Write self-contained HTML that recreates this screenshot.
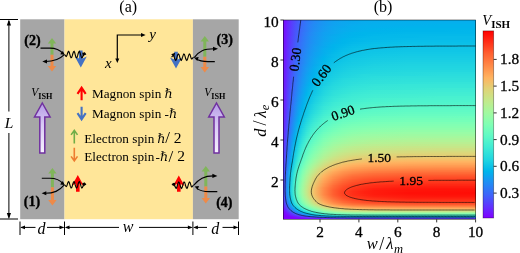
<!DOCTYPE html><html><head><meta charset="utf-8"><title>figure</title>
<style>html,body{margin:0;padding:0;background:#fff}svg{display:block}text{font-family:"Liberation Serif","DejaVu Serif",serif;fill:#000}</style></head><body>
<svg width="520" height="253" viewBox="0 0 520 253">
<defs><linearGradient id="r0"><stop offset="0" stop-color="#7a09ff"/><stop offset=".02" stop-color="#6a22fe"/><stop offset=".04" stop-color="#5a3bfd"/><stop offset=".06" stop-color="#4e4dfc"/><stop offset=".08" stop-color="#425ffa"/><stop offset=".1" stop-color="#396bf9"/><stop offset=".12" stop-color="#3176f8"/><stop offset=".14" stop-color="#2981f6"/><stop offset=".16" stop-color="#2489f5"/><stop offset=".21" stop-color="#1996f3"/><stop offset=".26" stop-color="#11a0f1"/><stop offset=".31" stop-color="#0ea5ef"/><stop offset=".36" stop-color="#09a9ee"/><stop offset=".42" stop-color="#08acee"/><stop offset=".47" stop-color="#08acee"/><stop offset=".65" stop-color="#06aeed"/><stop offset=".82" stop-color="#06aeed"/><stop offset="1" stop-color="#06aeed"/></linearGradient><linearGradient id="r1"><stop offset="0" stop-color="#7a09ff"/><stop offset=".02" stop-color="#6a22fe"/><stop offset=".04" stop-color="#5a3bfd"/><stop offset=".06" stop-color="#4e4dfc"/><stop offset=".08" stop-color="#425ffa"/><stop offset=".1" stop-color="#386df9"/><stop offset=".12" stop-color="#3079f7"/><stop offset=".14" stop-color="#2981f6"/><stop offset=".16" stop-color="#2489f5"/><stop offset=".21" stop-color="#1898f2"/><stop offset=".26" stop-color="#10a2f0"/><stop offset=".31" stop-color="#0ca7ef"/><stop offset=".36" stop-color="#09a9ee"/><stop offset=".42" stop-color="#08acee"/><stop offset=".47" stop-color="#06aeed"/><stop offset=".65" stop-color="#04b0ed"/><stop offset=".82" stop-color="#04b0ed"/><stop offset="1" stop-color="#04b0ed"/></linearGradient><linearGradient id="r2"><stop offset="0" stop-color="#7a09ff"/><stop offset=".02" stop-color="#6826fe"/><stop offset=".04" stop-color="#5a3bfd"/><stop offset=".06" stop-color="#4c50fc"/><stop offset=".08" stop-color="#425ffa"/><stop offset=".1" stop-color="#386df9"/><stop offset=".12" stop-color="#3079f7"/><stop offset=".14" stop-color="#2884f6"/><stop offset=".16" stop-color="#218cf4"/><stop offset=".21" stop-color="#1898f2"/><stop offset=".26" stop-color="#10a2f0"/><stop offset=".31" stop-color="#0ca7ef"/><stop offset=".36" stop-color="#08acee"/><stop offset=".42" stop-color="#06aeed"/><stop offset=".47" stop-color="#04b0ed"/><stop offset=".65" stop-color="#04b0ed"/><stop offset=".82" stop-color="#01b3ec"/><stop offset="1" stop-color="#01b3ec"/></linearGradient><linearGradient id="r3"><stop offset="0" stop-color="#7a09ff"/><stop offset=".02" stop-color="#6826fe"/><stop offset=".04" stop-color="#5a3bfd"/><stop offset=".06" stop-color="#4c50fc"/><stop offset=".08" stop-color="#4062fa"/><stop offset=".1" stop-color="#3670f8"/><stop offset=".12" stop-color="#2e7bf7"/><stop offset=".14" stop-color="#2884f6"/><stop offset=".16" stop-color="#218cf4"/><stop offset=".21" stop-color="#169bf2"/><stop offset=".26" stop-color="#0ea5ef"/><stop offset=".31" stop-color="#09a9ee"/><stop offset=".36" stop-color="#06aeed"/><stop offset=".42" stop-color="#04b0ed"/><stop offset=".47" stop-color="#04b0ed"/><stop offset=".65" stop-color="#01b3ec"/><stop offset=".82" stop-color="#01b3ec"/><stop offset="1" stop-color="#01b3ec"/></linearGradient><linearGradient id="r4"><stop offset="0" stop-color="#7a09ff"/><stop offset=".02" stop-color="#6826fe"/><stop offset=".04" stop-color="#583efd"/><stop offset=".06" stop-color="#4c50fc"/><stop offset=".08" stop-color="#4062fa"/><stop offset=".1" stop-color="#3670f8"/><stop offset=".12" stop-color="#2e7bf7"/><stop offset=".14" stop-color="#2686f5"/><stop offset=".16" stop-color="#208ef4"/><stop offset=".21" stop-color="#169bf2"/><stop offset=".26" stop-color="#0ea5ef"/><stop offset=".31" stop-color="#08acee"/><stop offset=".36" stop-color="#06aeed"/><stop offset=".42" stop-color="#04b0ed"/><stop offset=".47" stop-color="#01b3ec"/><stop offset=".65" stop-color="#00b5eb"/><stop offset=".82" stop-color="#00b5eb"/><stop offset="1" stop-color="#00b5eb"/></linearGradient><linearGradient id="r5"><stop offset="0" stop-color="#7a09ff"/><stop offset=".02" stop-color="#6826fe"/><stop offset=".04" stop-color="#583efd"/><stop offset=".06" stop-color="#4a53fb"/><stop offset=".08" stop-color="#4062fa"/><stop offset=".1" stop-color="#3670f8"/><stop offset=".12" stop-color="#2e7bf7"/><stop offset=".14" stop-color="#2686f5"/><stop offset=".16" stop-color="#208ef4"/><stop offset=".21" stop-color="#149df1"/><stop offset=".26" stop-color="#0ca7ef"/><stop offset=".31" stop-color="#08acee"/><stop offset=".36" stop-color="#04b0ed"/><stop offset=".42" stop-color="#01b3ec"/><stop offset=".47" stop-color="#01b3ec"/><stop offset=".65" stop-color="#00b5eb"/><stop offset=".82" stop-color="#00b5eb"/><stop offset="1" stop-color="#02b7eb"/></linearGradient><linearGradient id="r6"><stop offset="0" stop-color="#7a09ff"/><stop offset=".02" stop-color="#6826fe"/><stop offset=".04" stop-color="#583efd"/><stop offset=".06" stop-color="#4a53fb"/><stop offset=".08" stop-color="#3e65fa"/><stop offset=".1" stop-color="#3473f8"/><stop offset=".12" stop-color="#2c7ef7"/><stop offset=".14" stop-color="#2489f5"/><stop offset=".16" stop-color="#1e91f3"/><stop offset=".21" stop-color="#11a0f1"/><stop offset=".26" stop-color="#0ca7ef"/><stop offset=".31" stop-color="#06aeed"/><stop offset=".36" stop-color="#01b3ec"/><stop offset=".42" stop-color="#00b5eb"/><stop offset=".47" stop-color="#00b5eb"/><stop offset=".65" stop-color="#02b7eb"/><stop offset=".82" stop-color="#02b7eb"/><stop offset="1" stop-color="#02b7eb"/></linearGradient><linearGradient id="r7"><stop offset="0" stop-color="#7a09ff"/><stop offset=".02" stop-color="#6826fe"/><stop offset=".04" stop-color="#583efd"/><stop offset=".06" stop-color="#4a53fb"/><stop offset=".08" stop-color="#3e65fa"/><stop offset=".1" stop-color="#3473f8"/><stop offset=".12" stop-color="#2c7ef7"/><stop offset=".14" stop-color="#2489f5"/><stop offset=".16" stop-color="#1e91f3"/><stop offset=".21" stop-color="#11a0f1"/><stop offset=".26" stop-color="#09a9ee"/><stop offset=".31" stop-color="#04b0ed"/><stop offset=".36" stop-color="#01b3ec"/><stop offset=".42" stop-color="#00b5eb"/><stop offset=".47" stop-color="#02b7eb"/><stop offset=".65" stop-color="#04b9ea"/><stop offset=".82" stop-color="#04b9ea"/><stop offset="1" stop-color="#04b9ea"/></linearGradient><linearGradient id="r8"><stop offset="0" stop-color="#7a09ff"/><stop offset=".02" stop-color="#6629fe"/><stop offset=".04" stop-color="#5641fd"/><stop offset=".06" stop-color="#4856fb"/><stop offset=".08" stop-color="#3e65fa"/><stop offset=".1" stop-color="#3176f8"/><stop offset=".12" stop-color="#2981f6"/><stop offset=".14" stop-color="#218cf4"/><stop offset=".16" stop-color="#1c93f3"/><stop offset=".21" stop-color="#10a2f0"/><stop offset=".26" stop-color="#08acee"/><stop offset=".31" stop-color="#04b0ed"/><stop offset=".36" stop-color="#00b5eb"/><stop offset=".42" stop-color="#02b7eb"/><stop offset=".47" stop-color="#04b9ea"/><stop offset=".65" stop-color="#04b9ea"/><stop offset=".82" stop-color="#07bbea"/><stop offset="1" stop-color="#07bbea"/></linearGradient><linearGradient id="r9"><stop offset="0" stop-color="#7a09ff"/><stop offset=".02" stop-color="#6629fe"/><stop offset=".04" stop-color="#5641fd"/><stop offset=".06" stop-color="#4856fb"/><stop offset=".08" stop-color="#3c68f9"/><stop offset=".1" stop-color="#3176f8"/><stop offset=".12" stop-color="#2981f6"/><stop offset=".14" stop-color="#218cf4"/><stop offset=".16" stop-color="#1c93f3"/><stop offset=".21" stop-color="#10a2f0"/><stop offset=".26" stop-color="#08acee"/><stop offset=".31" stop-color="#01b3ec"/><stop offset=".36" stop-color="#02b7eb"/><stop offset=".42" stop-color="#04b9ea"/><stop offset=".47" stop-color="#04b9ea"/><stop offset=".65" stop-color="#07bbea"/><stop offset=".82" stop-color="#07bbea"/><stop offset="1" stop-color="#07bbea"/></linearGradient><linearGradient id="r10"><stop offset="0" stop-color="#7a09ff"/><stop offset=".02" stop-color="#6629fe"/><stop offset=".04" stop-color="#5641fd"/><stop offset=".06" stop-color="#4856fb"/><stop offset=".08" stop-color="#3c68f9"/><stop offset=".1" stop-color="#3176f8"/><stop offset=".12" stop-color="#2884f6"/><stop offset=".14" stop-color="#208ef4"/><stop offset=".16" stop-color="#1996f3"/><stop offset=".21" stop-color="#0ea5ef"/><stop offset=".26" stop-color="#06aeed"/><stop offset=".31" stop-color="#00b5eb"/><stop offset=".36" stop-color="#02b7eb"/><stop offset=".42" stop-color="#04b9ea"/><stop offset=".47" stop-color="#07bbea"/><stop offset=".65" stop-color="#08bee9"/><stop offset=".82" stop-color="#08bee9"/><stop offset="1" stop-color="#08bee9"/></linearGradient><linearGradient id="r11"><stop offset="0" stop-color="#7a09ff"/><stop offset=".02" stop-color="#6629fe"/><stop offset=".04" stop-color="#5641fd"/><stop offset=".06" stop-color="#4659fb"/><stop offset=".08" stop-color="#396bf9"/><stop offset=".1" stop-color="#3079f7"/><stop offset=".12" stop-color="#2884f6"/><stop offset=".14" stop-color="#208ef4"/><stop offset=".16" stop-color="#1996f3"/><stop offset=".21" stop-color="#0ca7ef"/><stop offset=".26" stop-color="#04b0ed"/><stop offset=".31" stop-color="#00b5eb"/><stop offset=".36" stop-color="#04b9ea"/><stop offset=".42" stop-color="#07bbea"/><stop offset=".47" stop-color="#08bee9"/><stop offset=".65" stop-color="#0ac0e8"/><stop offset=".82" stop-color="#0ac0e8"/><stop offset="1" stop-color="#0ac0e8"/></linearGradient><linearGradient id="r12"><stop offset="0" stop-color="#780dff"/><stop offset=".02" stop-color="#6629fe"/><stop offset=".04" stop-color="#5444fd"/><stop offset=".06" stop-color="#4659fb"/><stop offset=".08" stop-color="#396bf9"/><stop offset=".1" stop-color="#3079f7"/><stop offset=".12" stop-color="#2686f5"/><stop offset=".14" stop-color="#1e91f3"/><stop offset=".16" stop-color="#1898f2"/><stop offset=".21" stop-color="#0ca7ef"/><stop offset=".26" stop-color="#01b3ec"/><stop offset=".31" stop-color="#02b7eb"/><stop offset=".36" stop-color="#07bbea"/><stop offset=".42" stop-color="#08bee9"/><stop offset=".47" stop-color="#0ac0e8"/><stop offset=".65" stop-color="#0dc2e8"/><stop offset=".82" stop-color="#0dc2e8"/><stop offset="1" stop-color="#0dc2e8"/></linearGradient><linearGradient id="r13"><stop offset="0" stop-color="#780dff"/><stop offset=".02" stop-color="#6629fe"/><stop offset=".04" stop-color="#5444fd"/><stop offset=".06" stop-color="#4659fb"/><stop offset=".08" stop-color="#386df9"/><stop offset=".1" stop-color="#2e7bf7"/><stop offset=".12" stop-color="#2686f5"/><stop offset=".14" stop-color="#1e91f3"/><stop offset=".16" stop-color="#169bf2"/><stop offset=".21" stop-color="#09a9ee"/><stop offset=".26" stop-color="#01b3ec"/><stop offset=".31" stop-color="#04b9ea"/><stop offset=".36" stop-color="#08bee9"/><stop offset=".42" stop-color="#0ac0e8"/><stop offset=".47" stop-color="#0ac0e8"/><stop offset=".65" stop-color="#0dc2e8"/><stop offset=".82" stop-color="#0fc4e7"/><stop offset="1" stop-color="#0fc4e7"/></linearGradient><linearGradient id="r14"><stop offset="0" stop-color="#780dff"/><stop offset=".02" stop-color="#642cfe"/><stop offset=".04" stop-color="#5444fd"/><stop offset=".06" stop-color="#445cfb"/><stop offset=".08" stop-color="#386df9"/><stop offset=".1" stop-color="#2e7bf7"/><stop offset=".12" stop-color="#2489f5"/><stop offset=".14" stop-color="#1c93f3"/><stop offset=".16" stop-color="#169bf2"/><stop offset=".21" stop-color="#08acee"/><stop offset=".26" stop-color="#00b5eb"/><stop offset=".31" stop-color="#07bbea"/><stop offset=".36" stop-color="#0ac0e8"/><stop offset=".42" stop-color="#0dc2e8"/><stop offset=".47" stop-color="#0dc2e8"/><stop offset=".65" stop-color="#0fc4e7"/><stop offset=".82" stop-color="#0fc4e7"/><stop offset="1" stop-color="#10c6e6"/></linearGradient><linearGradient id="r15"><stop offset="0" stop-color="#780dff"/><stop offset=".02" stop-color="#642cfe"/><stop offset=".04" stop-color="#5247fc"/><stop offset=".06" stop-color="#445cfb"/><stop offset=".08" stop-color="#386df9"/><stop offset=".1" stop-color="#2c7ef7"/><stop offset=".12" stop-color="#218cf4"/><stop offset=".14" stop-color="#1996f3"/><stop offset=".16" stop-color="#149df1"/><stop offset=".21" stop-color="#06aeed"/><stop offset=".26" stop-color="#02b7eb"/><stop offset=".31" stop-color="#08bee9"/><stop offset=".36" stop-color="#0ac0e8"/><stop offset=".42" stop-color="#0fc4e7"/><stop offset=".47" stop-color="#0fc4e7"/><stop offset=".65" stop-color="#10c6e6"/><stop offset=".82" stop-color="#10c6e6"/><stop offset="1" stop-color="#10c6e6"/></linearGradient><linearGradient id="r16"><stop offset="0" stop-color="#780dff"/><stop offset=".02" stop-color="#642cfe"/><stop offset=".04" stop-color="#5247fc"/><stop offset=".06" stop-color="#445cfb"/><stop offset=".08" stop-color="#3670f8"/><stop offset=".1" stop-color="#2981f6"/><stop offset=".12" stop-color="#218cf4"/><stop offset=".14" stop-color="#1996f3"/><stop offset=".16" stop-color="#11a0f1"/><stop offset=".21" stop-color="#06aeed"/><stop offset=".26" stop-color="#04b9ea"/><stop offset=".31" stop-color="#0ac0e8"/><stop offset=".36" stop-color="#0dc2e8"/><stop offset=".42" stop-color="#0fc4e7"/><stop offset=".47" stop-color="#10c6e6"/><stop offset=".65" stop-color="#12c8e6"/><stop offset=".82" stop-color="#12c8e6"/><stop offset="1" stop-color="#12c8e6"/></linearGradient><linearGradient id="r17"><stop offset="0" stop-color="#780dff"/><stop offset=".02" stop-color="#642cfe"/><stop offset=".04" stop-color="#5247fc"/><stop offset=".06" stop-color="#425ffa"/><stop offset=".08" stop-color="#3670f8"/><stop offset=".1" stop-color="#2981f6"/><stop offset=".12" stop-color="#208ef4"/><stop offset=".14" stop-color="#1898f2"/><stop offset=".16" stop-color="#11a0f1"/><stop offset=".21" stop-color="#04b0ed"/><stop offset=".26" stop-color="#07bbea"/><stop offset=".31" stop-color="#0ac0e8"/><stop offset=".36" stop-color="#0fc4e7"/><stop offset=".42" stop-color="#10c6e6"/><stop offset=".47" stop-color="#12c8e6"/><stop offset=".65" stop-color="#14cae5"/><stop offset=".82" stop-color="#14cae5"/><stop offset="1" stop-color="#14cae5"/></linearGradient><linearGradient id="r18"><stop offset="0" stop-color="#780dff"/><stop offset=".02" stop-color="#642cfe"/><stop offset=".04" stop-color="#5247fc"/><stop offset=".06" stop-color="#425ffa"/><stop offset=".08" stop-color="#3473f8"/><stop offset=".1" stop-color="#2884f6"/><stop offset=".12" stop-color="#208ef4"/><stop offset=".14" stop-color="#169bf2"/><stop offset=".16" stop-color="#10a2f0"/><stop offset=".21" stop-color="#01b3ec"/><stop offset=".26" stop-color="#07bbea"/><stop offset=".31" stop-color="#0dc2e8"/><stop offset=".36" stop-color="#10c6e6"/><stop offset=".42" stop-color="#12c8e6"/><stop offset=".47" stop-color="#14cae5"/><stop offset=".65" stop-color="#17cbe4"/><stop offset=".82" stop-color="#17cbe4"/><stop offset="1" stop-color="#17cbe4"/></linearGradient><linearGradient id="r19"><stop offset="0" stop-color="#780dff"/><stop offset=".02" stop-color="#622ffe"/><stop offset=".04" stop-color="#504afc"/><stop offset=".06" stop-color="#4062fa"/><stop offset=".08" stop-color="#3473f8"/><stop offset=".1" stop-color="#2884f6"/><stop offset=".12" stop-color="#1e91f3"/><stop offset=".14" stop-color="#169bf2"/><stop offset=".16" stop-color="#0ea5ef"/><stop offset=".21" stop-color="#00b5eb"/><stop offset=".26" stop-color="#08bee9"/><stop offset=".31" stop-color="#0fc4e7"/><stop offset=".36" stop-color="#12c8e6"/><stop offset=".42" stop-color="#14cae5"/><stop offset=".47" stop-color="#17cbe4"/><stop offset=".65" stop-color="#18cde4"/><stop offset=".82" stop-color="#18cde4"/><stop offset="1" stop-color="#18cde4"/></linearGradient><linearGradient id="r20"><stop offset="0" stop-color="#780dff"/><stop offset=".02" stop-color="#622ffe"/><stop offset=".04" stop-color="#504afc"/><stop offset=".06" stop-color="#4062fa"/><stop offset=".08" stop-color="#3176f8"/><stop offset=".1" stop-color="#2686f5"/><stop offset=".12" stop-color="#1c93f3"/><stop offset=".14" stop-color="#149df1"/><stop offset=".16" stop-color="#0ca7ef"/><stop offset=".21" stop-color="#02b7eb"/><stop offset=".26" stop-color="#0ac0e8"/><stop offset=".31" stop-color="#10c6e6"/><stop offset=".36" stop-color="#14cae5"/><stop offset=".42" stop-color="#17cbe4"/><stop offset=".47" stop-color="#18cde4"/><stop offset=".65" stop-color="#1acfe3"/><stop offset=".82" stop-color="#1acfe3"/><stop offset="1" stop-color="#1acfe3"/></linearGradient><linearGradient id="r21"><stop offset="0" stop-color="#780dff"/><stop offset=".02" stop-color="#622ffe"/><stop offset=".04" stop-color="#504afc"/><stop offset=".06" stop-color="#3e65fa"/><stop offset=".08" stop-color="#3079f7"/><stop offset=".1" stop-color="#2686f5"/><stop offset=".12" stop-color="#1c93f3"/><stop offset=".14" stop-color="#11a0f1"/><stop offset=".16" stop-color="#0ca7ef"/><stop offset=".21" stop-color="#04b9ea"/><stop offset=".26" stop-color="#0dc2e8"/><stop offset=".31" stop-color="#12c8e6"/><stop offset=".36" stop-color="#17cbe4"/><stop offset=".42" stop-color="#18cde4"/><stop offset=".47" stop-color="#1acfe3"/><stop offset=".65" stop-color="#1dd1e2"/><stop offset=".82" stop-color="#1dd1e2"/><stop offset="1" stop-color="#1dd1e2"/></linearGradient><linearGradient id="r22"><stop offset="0" stop-color="#780dff"/><stop offset=".02" stop-color="#622ffe"/><stop offset=".04" stop-color="#4e4dfc"/><stop offset=".06" stop-color="#3e65fa"/><stop offset=".08" stop-color="#3079f7"/><stop offset=".1" stop-color="#2489f5"/><stop offset=".12" stop-color="#1996f3"/><stop offset=".14" stop-color="#11a0f1"/><stop offset=".16" stop-color="#09a9ee"/><stop offset=".21" stop-color="#04b9ea"/><stop offset=".26" stop-color="#0fc4e7"/><stop offset=".31" stop-color="#14cae5"/><stop offset=".36" stop-color="#18cde4"/><stop offset=".42" stop-color="#1acfe3"/><stop offset=".47" stop-color="#1dd1e2"/><stop offset=".65" stop-color="#1fd3e1"/><stop offset=".82" stop-color="#1fd3e1"/><stop offset="1" stop-color="#1fd3e1"/></linearGradient><linearGradient id="r23"><stop offset="0" stop-color="#780dff"/><stop offset=".02" stop-color="#6032fe"/><stop offset=".04" stop-color="#4e4dfc"/><stop offset=".06" stop-color="#3e65fa"/><stop offset=".08" stop-color="#2e7bf7"/><stop offset=".1" stop-color="#218cf4"/><stop offset=".12" stop-color="#1898f2"/><stop offset=".14" stop-color="#10a2f0"/><stop offset=".16" stop-color="#08acee"/><stop offset=".21" stop-color="#07bbea"/><stop offset=".26" stop-color="#10c6e6"/><stop offset=".31" stop-color="#17cbe4"/><stop offset=".36" stop-color="#1acfe3"/><stop offset=".42" stop-color="#1dd1e2"/><stop offset=".47" stop-color="#1fd3e1"/><stop offset=".65" stop-color="#20d5e1"/><stop offset=".82" stop-color="#20d5e1"/><stop offset="1" stop-color="#20d5e1"/></linearGradient><linearGradient id="r24"><stop offset="0" stop-color="#7610ff"/><stop offset=".02" stop-color="#6032fe"/><stop offset=".04" stop-color="#4c50fc"/><stop offset=".06" stop-color="#3c68f9"/><stop offset=".08" stop-color="#2e7bf7"/><stop offset=".1" stop-color="#218cf4"/><stop offset=".12" stop-color="#169bf2"/><stop offset=".14" stop-color="#0ea5ef"/><stop offset=".16" stop-color="#06aeed"/><stop offset=".21" stop-color="#08bee9"/><stop offset=".26" stop-color="#12c8e6"/><stop offset=".31" stop-color="#18cde4"/><stop offset=".36" stop-color="#1dd1e2"/><stop offset=".42" stop-color="#1fd3e1"/><stop offset=".47" stop-color="#20d5e1"/><stop offset=".65" stop-color="#22d6e0"/><stop offset=".82" stop-color="#22d6e0"/><stop offset="1" stop-color="#22d6e0"/></linearGradient><linearGradient id="r25"><stop offset="0" stop-color="#7610ff"/><stop offset=".02" stop-color="#6032fe"/><stop offset=".04" stop-color="#4c50fc"/><stop offset=".06" stop-color="#3c68f9"/><stop offset=".08" stop-color="#2c7ef7"/><stop offset=".1" stop-color="#208ef4"/><stop offset=".12" stop-color="#169bf2"/><stop offset=".14" stop-color="#0ca7ef"/><stop offset=".16" stop-color="#04b0ed"/><stop offset=".21" stop-color="#0ac0e8"/><stop offset=".26" stop-color="#14cae5"/><stop offset=".31" stop-color="#1acfe3"/><stop offset=".36" stop-color="#1fd3e1"/><stop offset=".42" stop-color="#20d5e1"/><stop offset=".47" stop-color="#22d6e0"/><stop offset=".65" stop-color="#24d8df"/><stop offset=".82" stop-color="#24d8df"/><stop offset="1" stop-color="#24d8df"/></linearGradient><linearGradient id="r26"><stop offset="0" stop-color="#7610ff"/><stop offset=".02" stop-color="#6032fe"/><stop offset=".04" stop-color="#4c50fc"/><stop offset=".06" stop-color="#396bf9"/><stop offset=".08" stop-color="#2c7ef7"/><stop offset=".1" stop-color="#1e91f3"/><stop offset=".12" stop-color="#149df1"/><stop offset=".14" stop-color="#09a9ee"/><stop offset=".16" stop-color="#04b0ed"/><stop offset=".21" stop-color="#0dc2e8"/><stop offset=".26" stop-color="#17cbe4"/><stop offset=".31" stop-color="#1dd1e2"/><stop offset=".36" stop-color="#20d5e1"/><stop offset=".42" stop-color="#22d6e0"/><stop offset=".47" stop-color="#24d8df"/><stop offset=".65" stop-color="#27dade"/><stop offset=".82" stop-color="#28dbde"/><stop offset="1" stop-color="#28dbde"/></linearGradient><linearGradient id="r27"><stop offset="0" stop-color="#7610ff"/><stop offset=".02" stop-color="#5e35fe"/><stop offset=".04" stop-color="#4a53fb"/><stop offset=".06" stop-color="#396bf9"/><stop offset=".08" stop-color="#2981f6"/><stop offset=".1" stop-color="#1e91f3"/><stop offset=".12" stop-color="#11a0f1"/><stop offset=".14" stop-color="#09a9ee"/><stop offset=".16" stop-color="#01b3ec"/><stop offset=".21" stop-color="#0fc4e7"/><stop offset=".26" stop-color="#18cde4"/><stop offset=".31" stop-color="#1fd3e1"/><stop offset=".36" stop-color="#22d6e0"/><stop offset=".42" stop-color="#27dade"/><stop offset=".47" stop-color="#27dade"/><stop offset=".65" stop-color="#28dbde"/><stop offset=".82" stop-color="#2adddd"/><stop offset="1" stop-color="#2adddd"/></linearGradient><linearGradient id="r28"><stop offset="0" stop-color="#7610ff"/><stop offset=".02" stop-color="#5e35fe"/><stop offset=".04" stop-color="#4a53fb"/><stop offset=".06" stop-color="#386df9"/><stop offset=".08" stop-color="#2884f6"/><stop offset=".1" stop-color="#1c93f3"/><stop offset=".12" stop-color="#10a2f0"/><stop offset=".14" stop-color="#08acee"/><stop offset=".16" stop-color="#00b5eb"/><stop offset=".21" stop-color="#10c6e6"/><stop offset=".26" stop-color="#1acfe3"/><stop offset=".31" stop-color="#20d5e1"/><stop offset=".36" stop-color="#24d8df"/><stop offset=".42" stop-color="#28dbde"/><stop offset=".47" stop-color="#2adddd"/><stop offset=".65" stop-color="#2ddedc"/><stop offset=".82" stop-color="#2ddedc"/><stop offset="1" stop-color="#2ddedc"/></linearGradient><linearGradient id="r29"><stop offset="0" stop-color="#7610ff"/><stop offset=".02" stop-color="#5e35fe"/><stop offset=".04" stop-color="#4856fb"/><stop offset=".06" stop-color="#3670f8"/><stop offset=".08" stop-color="#2884f6"/><stop offset=".1" stop-color="#1996f3"/><stop offset=".12" stop-color="#10a2f0"/><stop offset=".14" stop-color="#06aeed"/><stop offset=".16" stop-color="#02b7eb"/><stop offset=".21" stop-color="#12c8e6"/><stop offset=".26" stop-color="#1dd1e2"/><stop offset=".31" stop-color="#24d8df"/><stop offset=".36" stop-color="#28dbde"/><stop offset=".42" stop-color="#2adddd"/><stop offset=".47" stop-color="#2ddedc"/><stop offset=".65" stop-color="#2fe0db"/><stop offset=".82" stop-color="#2fe0db"/><stop offset="1" stop-color="#2fe0db"/></linearGradient><linearGradient id="r30"><stop offset="0" stop-color="#7610ff"/><stop offset=".02" stop-color="#5e35fe"/><stop offset=".04" stop-color="#4856fb"/><stop offset=".06" stop-color="#3670f8"/><stop offset=".08" stop-color="#2686f5"/><stop offset=".1" stop-color="#1898f2"/><stop offset=".12" stop-color="#0ea5ef"/><stop offset=".14" stop-color="#04b0ed"/><stop offset=".16" stop-color="#04b9ea"/><stop offset=".21" stop-color="#14cae5"/><stop offset=".26" stop-color="#1fd3e1"/><stop offset=".31" stop-color="#27dade"/><stop offset=".36" stop-color="#2adddd"/><stop offset=".42" stop-color="#2ddedc"/><stop offset=".47" stop-color="#2fe0db"/><stop offset=".65" stop-color="#30e1da"/><stop offset=".82" stop-color="#30e1da"/><stop offset="1" stop-color="#30e1da"/></linearGradient><linearGradient id="r31"><stop offset="0" stop-color="#7610ff"/><stop offset=".02" stop-color="#5c38fd"/><stop offset=".04" stop-color="#4856fb"/><stop offset=".06" stop-color="#3473f8"/><stop offset=".08" stop-color="#2489f5"/><stop offset=".1" stop-color="#1898f2"/><stop offset=".12" stop-color="#0ca7ef"/><stop offset=".14" stop-color="#01b3ec"/><stop offset=".16" stop-color="#07bbea"/><stop offset=".21" stop-color="#17cbe4"/><stop offset=".26" stop-color="#22d6e0"/><stop offset=".31" stop-color="#28dbde"/><stop offset=".36" stop-color="#2ddedc"/><stop offset=".42" stop-color="#2fe0db"/><stop offset=".47" stop-color="#30e1da"/><stop offset=".65" stop-color="#32e3da"/><stop offset=".82" stop-color="#34e4d9"/><stop offset="1" stop-color="#34e4d9"/></linearGradient><linearGradient id="r32"><stop offset="0" stop-color="#7610ff"/><stop offset=".02" stop-color="#5c38fd"/><stop offset=".04" stop-color="#4659fb"/><stop offset=".06" stop-color="#3473f8"/><stop offset=".08" stop-color="#2489f5"/><stop offset=".1" stop-color="#169bf2"/><stop offset=".12" stop-color="#09a9ee"/><stop offset=".14" stop-color="#00b5eb"/><stop offset=".16" stop-color="#08bee9"/><stop offset=".21" stop-color="#18cde4"/><stop offset=".26" stop-color="#24d8df"/><stop offset=".31" stop-color="#2adddd"/><stop offset=".36" stop-color="#2fe0db"/><stop offset=".42" stop-color="#32e3da"/><stop offset=".47" stop-color="#34e4d9"/><stop offset=".65" stop-color="#37e6d8"/><stop offset=".82" stop-color="#37e6d8"/><stop offset="1" stop-color="#37e6d8"/></linearGradient><linearGradient id="r33"><stop offset="0" stop-color="#7413ff"/><stop offset=".02" stop-color="#5c38fd"/><stop offset=".04" stop-color="#4659fb"/><stop offset=".06" stop-color="#3176f8"/><stop offset=".08" stop-color="#218cf4"/><stop offset=".1" stop-color="#149df1"/><stop offset=".12" stop-color="#08acee"/><stop offset=".14" stop-color="#02b7eb"/><stop offset=".16" stop-color="#0ac0e8"/><stop offset=".21" stop-color="#1dd1e2"/><stop offset=".26" stop-color="#27dade"/><stop offset=".31" stop-color="#2ddedc"/><stop offset=".36" stop-color="#32e3da"/><stop offset=".42" stop-color="#34e4d9"/><stop offset=".47" stop-color="#37e6d8"/><stop offset=".65" stop-color="#38e7d7"/><stop offset=".82" stop-color="#38e7d7"/><stop offset="1" stop-color="#38e7d7"/></linearGradient><linearGradient id="r34"><stop offset="0" stop-color="#7413ff"/><stop offset=".02" stop-color="#5a3bfd"/><stop offset=".04" stop-color="#445cfb"/><stop offset=".06" stop-color="#3176f8"/><stop offset=".08" stop-color="#208ef4"/><stop offset=".1" stop-color="#11a0f1"/><stop offset=".12" stop-color="#06aeed"/><stop offset=".14" stop-color="#04b9ea"/><stop offset=".16" stop-color="#0dc2e8"/><stop offset=".21" stop-color="#1fd3e1"/><stop offset=".26" stop-color="#28dbde"/><stop offset=".31" stop-color="#30e1da"/><stop offset=".36" stop-color="#34e4d9"/><stop offset=".42" stop-color="#37e6d8"/><stop offset=".47" stop-color="#38e7d7"/><stop offset=".65" stop-color="#3ae8d6"/><stop offset=".82" stop-color="#3dead5"/><stop offset="1" stop-color="#3dead5"/></linearGradient><linearGradient id="r35"><stop offset="0" stop-color="#7413ff"/><stop offset=".02" stop-color="#5a3bfd"/><stop offset=".04" stop-color="#445cfb"/><stop offset=".06" stop-color="#3079f7"/><stop offset=".08" stop-color="#208ef4"/><stop offset=".1" stop-color="#10a2f0"/><stop offset=".12" stop-color="#04b0ed"/><stop offset=".14" stop-color="#07bbea"/><stop offset=".16" stop-color="#0fc4e7"/><stop offset=".21" stop-color="#20d5e1"/><stop offset=".26" stop-color="#2ddedc"/><stop offset=".31" stop-color="#32e3da"/><stop offset=".36" stop-color="#37e6d8"/><stop offset=".42" stop-color="#3ae8d6"/><stop offset=".47" stop-color="#3dead5"/><stop offset=".65" stop-color="#3febd5"/><stop offset=".82" stop-color="#3febd5"/><stop offset="1" stop-color="#3febd5"/></linearGradient><linearGradient id="r36"><stop offset="0" stop-color="#7413ff"/><stop offset=".02" stop-color="#5a3bfd"/><stop offset=".04" stop-color="#425ffa"/><stop offset=".06" stop-color="#2e7bf7"/><stop offset=".08" stop-color="#1e91f3"/><stop offset=".1" stop-color="#10a2f0"/><stop offset=".12" stop-color="#01b3ec"/><stop offset=".14" stop-color="#08bee9"/><stop offset=".16" stop-color="#10c6e6"/><stop offset=".21" stop-color="#22d6e0"/><stop offset=".26" stop-color="#2fe0db"/><stop offset=".31" stop-color="#34e4d9"/><stop offset=".36" stop-color="#3ae8d6"/><stop offset=".42" stop-color="#3dead5"/><stop offset=".47" stop-color="#3febd5"/><stop offset=".65" stop-color="#40ecd4"/><stop offset=".82" stop-color="#42edd3"/><stop offset="1" stop-color="#42edd3"/></linearGradient><linearGradient id="r37"><stop offset="0" stop-color="#7413ff"/><stop offset=".02" stop-color="#583efd"/><stop offset=".04" stop-color="#425ffa"/><stop offset=".06" stop-color="#2e7bf7"/><stop offset=".08" stop-color="#1c93f3"/><stop offset=".1" stop-color="#0ea5ef"/><stop offset=".12" stop-color="#00b5eb"/><stop offset=".14" stop-color="#0ac0e8"/><stop offset=".16" stop-color="#12c8e6"/><stop offset=".21" stop-color="#24d8df"/><stop offset=".26" stop-color="#30e1da"/><stop offset=".31" stop-color="#38e7d7"/><stop offset=".36" stop-color="#3dead5"/><stop offset=".42" stop-color="#40ecd4"/><stop offset=".47" stop-color="#42edd3"/><stop offset=".65" stop-color="#44eed2"/><stop offset=".82" stop-color="#44eed2"/><stop offset="1" stop-color="#44eed2"/></linearGradient><linearGradient id="r38"><stop offset="0" stop-color="#7413ff"/><stop offset=".02" stop-color="#583efd"/><stop offset=".04" stop-color="#4062fa"/><stop offset=".06" stop-color="#2c7ef7"/><stop offset=".08" stop-color="#1996f3"/><stop offset=".1" stop-color="#0ca7ef"/><stop offset=".12" stop-color="#02b7eb"/><stop offset=".14" stop-color="#0dc2e8"/><stop offset=".16" stop-color="#17cbe4"/><stop offset=".21" stop-color="#28dbde"/><stop offset=".26" stop-color="#34e4d9"/><stop offset=".31" stop-color="#3ae8d6"/><stop offset=".36" stop-color="#40ecd4"/><stop offset=".42" stop-color="#42edd3"/><stop offset=".47" stop-color="#44eed2"/><stop offset=".65" stop-color="#46efd1"/><stop offset=".82" stop-color="#48f1d0"/><stop offset="1" stop-color="#48f1d0"/></linearGradient><linearGradient id="r39"><stop offset="0" stop-color="#7413ff"/><stop offset=".02" stop-color="#583efd"/><stop offset=".04" stop-color="#4062fa"/><stop offset=".06" stop-color="#2981f6"/><stop offset=".08" stop-color="#1898f2"/><stop offset=".1" stop-color="#09a9ee"/><stop offset=".12" stop-color="#04b9ea"/><stop offset=".14" stop-color="#0fc4e7"/><stop offset=".16" stop-color="#18cde4"/><stop offset=".21" stop-color="#2adddd"/><stop offset=".26" stop-color="#37e6d8"/><stop offset=".31" stop-color="#3febd5"/><stop offset=".36" stop-color="#42edd3"/><stop offset=".42" stop-color="#46efd1"/><stop offset=".47" stop-color="#48f1d0"/><stop offset=".65" stop-color="#4af2cf"/><stop offset=".82" stop-color="#4af2cf"/><stop offset="1" stop-color="#4af2cf"/></linearGradient><linearGradient id="r40"><stop offset="0" stop-color="#7413ff"/><stop offset=".02" stop-color="#5641fd"/><stop offset=".04" stop-color="#3e65fa"/><stop offset=".06" stop-color="#2981f6"/><stop offset=".08" stop-color="#1898f2"/><stop offset=".1" stop-color="#08acee"/><stop offset=".12" stop-color="#07bbea"/><stop offset=".14" stop-color="#10c6e6"/><stop offset=".16" stop-color="#1acfe3"/><stop offset=".21" stop-color="#2ddedc"/><stop offset=".26" stop-color="#38e7d7"/><stop offset=".31" stop-color="#40ecd4"/><stop offset=".36" stop-color="#46efd1"/><stop offset=".42" stop-color="#48f1d0"/><stop offset=".47" stop-color="#4af2cf"/><stop offset=".65" stop-color="#4ef3cd"/><stop offset=".82" stop-color="#4ef3cd"/><stop offset="1" stop-color="#4ef3cd"/></linearGradient><linearGradient id="r41"><stop offset="0" stop-color="#7216ff"/><stop offset=".02" stop-color="#5641fd"/><stop offset=".04" stop-color="#3e65fa"/><stop offset=".06" stop-color="#2884f6"/><stop offset=".08" stop-color="#169bf2"/><stop offset=".1" stop-color="#06aeed"/><stop offset=".12" stop-color="#08bee9"/><stop offset=".14" stop-color="#12c8e6"/><stop offset=".16" stop-color="#1dd1e2"/><stop offset=".21" stop-color="#30e1da"/><stop offset=".26" stop-color="#3dead5"/><stop offset=".31" stop-color="#44eed2"/><stop offset=".36" stop-color="#48f1d0"/><stop offset=".42" stop-color="#4df3ce"/><stop offset=".47" stop-color="#4ef3cd"/><stop offset=".65" stop-color="#50f4cc"/><stop offset=".82" stop-color="#50f4cc"/><stop offset="1" stop-color="#52f5cb"/></linearGradient><linearGradient id="r42"><stop offset="0" stop-color="#7216ff"/><stop offset=".02" stop-color="#5641fd"/><stop offset=".04" stop-color="#3c68f9"/><stop offset=".06" stop-color="#2686f5"/><stop offset=".08" stop-color="#149df1"/><stop offset=".1" stop-color="#04b0ed"/><stop offset=".12" stop-color="#0ac0e8"/><stop offset=".14" stop-color="#17cbe4"/><stop offset=".16" stop-color="#20d5e1"/><stop offset=".21" stop-color="#32e3da"/><stop offset=".26" stop-color="#3febd5"/><stop offset=".31" stop-color="#46efd1"/><stop offset=".36" stop-color="#4df3ce"/><stop offset=".42" stop-color="#50f4cc"/><stop offset=".47" stop-color="#52f5cb"/><stop offset=".65" stop-color="#54f6cb"/><stop offset=".82" stop-color="#54f6cb"/><stop offset="1" stop-color="#54f6cb"/></linearGradient><linearGradient id="r43"><stop offset="0" stop-color="#7216ff"/><stop offset=".02" stop-color="#5444fd"/><stop offset=".04" stop-color="#396bf9"/><stop offset=".06" stop-color="#2489f5"/><stop offset=".08" stop-color="#11a0f1"/><stop offset=".1" stop-color="#01b3ec"/><stop offset=".12" stop-color="#0dc2e8"/><stop offset=".14" stop-color="#18cde4"/><stop offset=".16" stop-color="#22d6e0"/><stop offset=".21" stop-color="#37e6d8"/><stop offset=".26" stop-color="#42edd3"/><stop offset=".31" stop-color="#4af2cf"/><stop offset=".36" stop-color="#50f4cc"/><stop offset=".42" stop-color="#52f5cb"/><stop offset=".47" stop-color="#54f6cb"/><stop offset=".65" stop-color="#58f8c9"/><stop offset=".82" stop-color="#58f8c9"/><stop offset="1" stop-color="#58f8c9"/></linearGradient><linearGradient id="r44"><stop offset="0" stop-color="#7216ff"/><stop offset=".02" stop-color="#5444fd"/><stop offset=".04" stop-color="#396bf9"/><stop offset=".06" stop-color="#2489f5"/><stop offset=".08" stop-color="#10a2f0"/><stop offset=".1" stop-color="#00b5eb"/><stop offset=".12" stop-color="#0fc4e7"/><stop offset=".14" stop-color="#1acfe3"/><stop offset=".16" stop-color="#24d8df"/><stop offset=".21" stop-color="#38e7d7"/><stop offset=".26" stop-color="#46efd1"/><stop offset=".31" stop-color="#4ef3cd"/><stop offset=".36" stop-color="#52f5cb"/><stop offset=".42" stop-color="#56f7ca"/><stop offset=".47" stop-color="#58f8c9"/><stop offset=".65" stop-color="#5df9c7"/><stop offset=".82" stop-color="#5df9c7"/><stop offset="1" stop-color="#5df9c7"/></linearGradient><linearGradient id="r45"><stop offset="0" stop-color="#7216ff"/><stop offset=".02" stop-color="#5247fc"/><stop offset=".04" stop-color="#386df9"/><stop offset=".06" stop-color="#218cf4"/><stop offset=".08" stop-color="#0ea5ef"/><stop offset=".1" stop-color="#04b9ea"/><stop offset=".12" stop-color="#12c8e6"/><stop offset=".14" stop-color="#1fd3e1"/><stop offset=".16" stop-color="#28dbde"/><stop offset=".21" stop-color="#3dead5"/><stop offset=".26" stop-color="#4af2cf"/><stop offset=".31" stop-color="#52f5cb"/><stop offset=".36" stop-color="#56f7ca"/><stop offset=".42" stop-color="#5af8c8"/><stop offset=".47" stop-color="#5df9c7"/><stop offset=".65" stop-color="#60fac5"/><stop offset=".82" stop-color="#60fac5"/><stop offset="1" stop-color="#60fac5"/></linearGradient><linearGradient id="r46"><stop offset="0" stop-color="#7216ff"/><stop offset=".02" stop-color="#5247fc"/><stop offset=".04" stop-color="#3670f8"/><stop offset=".06" stop-color="#208ef4"/><stop offset=".08" stop-color="#0ca7ef"/><stop offset=".1" stop-color="#07bbea"/><stop offset=".12" stop-color="#14cae5"/><stop offset=".14" stop-color="#20d5e1"/><stop offset=".16" stop-color="#2adddd"/><stop offset=".21" stop-color="#40ecd4"/><stop offset=".26" stop-color="#4df3ce"/><stop offset=".31" stop-color="#56f7ca"/><stop offset=".36" stop-color="#5af8c8"/><stop offset=".42" stop-color="#5efac6"/><stop offset=".47" stop-color="#60fac5"/><stop offset=".65" stop-color="#64fbc3"/><stop offset=".82" stop-color="#64fbc3"/><stop offset="1" stop-color="#64fbc3"/></linearGradient><linearGradient id="r47"><stop offset="0" stop-color="#7019ff"/><stop offset=".02" stop-color="#504afc"/><stop offset=".04" stop-color="#3670f8"/><stop offset=".06" stop-color="#1e91f3"/><stop offset=".08" stop-color="#09a9ee"/><stop offset=".1" stop-color="#08bee9"/><stop offset=".12" stop-color="#17cbe4"/><stop offset=".14" stop-color="#24d8df"/><stop offset=".16" stop-color="#2fe0db"/><stop offset=".21" stop-color="#44eed2"/><stop offset=".26" stop-color="#50f4cc"/><stop offset=".31" stop-color="#5af8c8"/><stop offset=".36" stop-color="#60fac5"/><stop offset=".42" stop-color="#62fbc4"/><stop offset=".47" stop-color="#64fbc3"/><stop offset=".65" stop-color="#68fcc1"/><stop offset=".82" stop-color="#68fcc1"/><stop offset="1" stop-color="#68fcc1"/></linearGradient><linearGradient id="r48"><stop offset="0" stop-color="#7019ff"/><stop offset=".02" stop-color="#504afc"/><stop offset=".04" stop-color="#3473f8"/><stop offset=".06" stop-color="#1c93f3"/><stop offset=".08" stop-color="#06aeed"/><stop offset=".1" stop-color="#0ac0e8"/><stop offset=".12" stop-color="#1acfe3"/><stop offset=".14" stop-color="#27dade"/><stop offset=".16" stop-color="#32e3da"/><stop offset=".21" stop-color="#48f1d0"/><stop offset=".26" stop-color="#56f7ca"/><stop offset=".31" stop-color="#5efac6"/><stop offset=".36" stop-color="#64fbc3"/><stop offset=".42" stop-color="#66fcc2"/><stop offset=".47" stop-color="#6afdc0"/><stop offset=".65" stop-color="#6dfdbf"/><stop offset=".82" stop-color="#6dfdbf"/><stop offset="1" stop-color="#6efebe"/></linearGradient><linearGradient id="r49"><stop offset="0" stop-color="#7019ff"/><stop offset=".02" stop-color="#4e4dfc"/><stop offset=".04" stop-color="#3176f8"/><stop offset=".06" stop-color="#1996f3"/><stop offset=".08" stop-color="#04b0ed"/><stop offset=".1" stop-color="#0fc4e7"/><stop offset=".12" stop-color="#1fd3e1"/><stop offset=".14" stop-color="#2adddd"/><stop offset=".16" stop-color="#37e6d8"/><stop offset=".21" stop-color="#4df3ce"/><stop offset=".26" stop-color="#5af8c8"/><stop offset=".31" stop-color="#62fbc4"/><stop offset=".36" stop-color="#68fcc1"/><stop offset=".42" stop-color="#6dfdbf"/><stop offset=".47" stop-color="#6efebe"/><stop offset=".65" stop-color="#72febb"/><stop offset=".82" stop-color="#72febb"/><stop offset="1" stop-color="#72febb"/></linearGradient><linearGradient id="r50"><stop offset="0" stop-color="#7019ff"/><stop offset=".02" stop-color="#4e4dfc"/><stop offset=".04" stop-color="#3079f7"/><stop offset=".06" stop-color="#1898f2"/><stop offset=".08" stop-color="#01b3ec"/><stop offset=".1" stop-color="#10c6e6"/><stop offset=".12" stop-color="#20d5e1"/><stop offset=".14" stop-color="#2fe0db"/><stop offset=".16" stop-color="#3ae8d6"/><stop offset=".21" stop-color="#50f4cc"/><stop offset=".26" stop-color="#5efac6"/><stop offset=".31" stop-color="#68fcc1"/><stop offset=".36" stop-color="#6dfdbf"/><stop offset=".42" stop-color="#70febc"/><stop offset=".47" stop-color="#72febb"/><stop offset=".65" stop-color="#76ffb9"/><stop offset=".82" stop-color="#76ffb9"/><stop offset="1" stop-color="#76ffb9"/></linearGradient><linearGradient id="r51"><stop offset="0" stop-color="#7019ff"/><stop offset=".02" stop-color="#4c50fc"/><stop offset=".04" stop-color="#2e7bf7"/><stop offset=".06" stop-color="#149df1"/><stop offset=".08" stop-color="#02b7eb"/><stop offset=".1" stop-color="#14cae5"/><stop offset=".12" stop-color="#24d8df"/><stop offset=".14" stop-color="#32e3da"/><stop offset=".16" stop-color="#3febd5"/><stop offset=".21" stop-color="#54f6cb"/><stop offset=".26" stop-color="#62fbc4"/><stop offset=".31" stop-color="#6dfdbf"/><stop offset=".36" stop-color="#72febb"/><stop offset=".42" stop-color="#76ffb9"/><stop offset=".47" stop-color="#78ffb8"/><stop offset=".65" stop-color="#7dffb6"/><stop offset=".82" stop-color="#7dffb6"/><stop offset="1" stop-color="#7dffb6"/></linearGradient><linearGradient id="r52"><stop offset="0" stop-color="#6e1cff"/><stop offset=".02" stop-color="#4c50fc"/><stop offset=".04" stop-color="#2c7ef7"/><stop offset=".06" stop-color="#11a0f1"/><stop offset=".08" stop-color="#04b9ea"/><stop offset=".1" stop-color="#18cde4"/><stop offset=".12" stop-color="#28dbde"/><stop offset=".14" stop-color="#37e6d8"/><stop offset=".16" stop-color="#42edd3"/><stop offset=".21" stop-color="#58f8c9"/><stop offset=".26" stop-color="#68fcc1"/><stop offset=".31" stop-color="#72febb"/><stop offset=".36" stop-color="#78ffb8"/><stop offset=".42" stop-color="#7affb7"/><stop offset=".47" stop-color="#7effb5"/><stop offset=".65" stop-color="#80ffb4"/><stop offset=".82" stop-color="#82ffb3"/><stop offset="1" stop-color="#82ffb3"/></linearGradient><linearGradient id="r53"><stop offset="0" stop-color="#6e1cff"/><stop offset=".02" stop-color="#4a53fb"/><stop offset=".04" stop-color="#2981f6"/><stop offset=".06" stop-color="#10a2f0"/><stop offset=".08" stop-color="#07bbea"/><stop offset=".1" stop-color="#1acfe3"/><stop offset=".12" stop-color="#2ddedc"/><stop offset=".14" stop-color="#3ae8d6"/><stop offset=".16" stop-color="#46efd1"/><stop offset=".21" stop-color="#5efac6"/><stop offset=".26" stop-color="#6dfdbf"/><stop offset=".31" stop-color="#76ffb9"/><stop offset=".36" stop-color="#7dffb6"/><stop offset=".42" stop-color="#80ffb4"/><stop offset=".47" stop-color="#82ffb3"/><stop offset=".65" stop-color="#86ffb0"/><stop offset=".82" stop-color="#86ffb0"/><stop offset="1" stop-color="#86ffb0"/></linearGradient><linearGradient id="r54"><stop offset="0" stop-color="#6e1cff"/><stop offset=".02" stop-color="#4856fb"/><stop offset=".04" stop-color="#2981f6"/><stop offset=".06" stop-color="#0ea5ef"/><stop offset=".08" stop-color="#0ac0e8"/><stop offset=".1" stop-color="#1fd3e1"/><stop offset=".12" stop-color="#2fe0db"/><stop offset=".14" stop-color="#3febd5"/><stop offset=".16" stop-color="#4af2cf"/><stop offset=".21" stop-color="#62fbc4"/><stop offset=".26" stop-color="#72febb"/><stop offset=".31" stop-color="#7dffb6"/><stop offset=".36" stop-color="#82ffb3"/><stop offset=".42" stop-color="#86ffb0"/><stop offset=".47" stop-color="#88ffaf"/><stop offset=".65" stop-color="#8cfead"/><stop offset=".82" stop-color="#8cfead"/><stop offset="1" stop-color="#8cfead"/></linearGradient><linearGradient id="r55"><stop offset="0" stop-color="#6e1cff"/><stop offset=".02" stop-color="#4856fb"/><stop offset=".04" stop-color="#2884f6"/><stop offset=".06" stop-color="#0ca7ef"/><stop offset=".08" stop-color="#0dc2e8"/><stop offset=".1" stop-color="#22d6e0"/><stop offset=".12" stop-color="#32e3da"/><stop offset=".14" stop-color="#42edd3"/><stop offset=".16" stop-color="#4ef3cd"/><stop offset=".21" stop-color="#66fcc2"/><stop offset=".26" stop-color="#76ffb9"/><stop offset=".31" stop-color="#82ffb3"/><stop offset=".36" stop-color="#88ffaf"/><stop offset=".42" stop-color="#8cfead"/><stop offset=".47" stop-color="#8efeac"/><stop offset=".65" stop-color="#92fda9"/><stop offset=".82" stop-color="#92fda9"/><stop offset="1" stop-color="#92fda9"/></linearGradient><linearGradient id="r56"><stop offset="0" stop-color="#6c1fff"/><stop offset=".02" stop-color="#4659fb"/><stop offset=".04" stop-color="#2686f5"/><stop offset=".06" stop-color="#08acee"/><stop offset=".08" stop-color="#10c6e6"/><stop offset=".1" stop-color="#24d8df"/><stop offset=".12" stop-color="#37e6d8"/><stop offset=".14" stop-color="#46efd1"/><stop offset=".16" stop-color="#52f5cb"/><stop offset=".21" stop-color="#6dfdbf"/><stop offset=".26" stop-color="#7dffb6"/><stop offset=".31" stop-color="#86ffb0"/><stop offset=".36" stop-color="#8efeac"/><stop offset=".42" stop-color="#92fda9"/><stop offset=".47" stop-color="#94fda8"/><stop offset=".65" stop-color="#99fca6"/><stop offset=".82" stop-color="#99fca6"/><stop offset="1" stop-color="#99fca6"/></linearGradient><linearGradient id="r57"><stop offset="0" stop-color="#6c1fff"/><stop offset=".02" stop-color="#445cfb"/><stop offset=".04" stop-color="#218cf4"/><stop offset=".06" stop-color="#06aeed"/><stop offset=".08" stop-color="#14cae5"/><stop offset=".1" stop-color="#28dbde"/><stop offset=".12" stop-color="#3ae8d6"/><stop offset=".14" stop-color="#4af2cf"/><stop offset=".16" stop-color="#58f8c9"/><stop offset=".21" stop-color="#72febb"/><stop offset=".26" stop-color="#82ffb3"/><stop offset=".31" stop-color="#8cfead"/><stop offset=".36" stop-color="#94fda8"/><stop offset=".42" stop-color="#99fca6"/><stop offset=".47" stop-color="#9bfba5"/><stop offset=".65" stop-color="#9efaa2"/><stop offset=".82" stop-color="#9efaa2"/><stop offset="1" stop-color="#9efaa2"/></linearGradient><linearGradient id="r58"><stop offset="0" stop-color="#6c1fff"/><stop offset=".02" stop-color="#445cfb"/><stop offset=".04" stop-color="#208ef4"/><stop offset=".06" stop-color="#01b3ec"/><stop offset=".08" stop-color="#17cbe4"/><stop offset=".1" stop-color="#2ddedc"/><stop offset=".12" stop-color="#3febd5"/><stop offset=".14" stop-color="#4ef3cd"/><stop offset=".16" stop-color="#5df9c7"/><stop offset=".21" stop-color="#76ffb9"/><stop offset=".26" stop-color="#88ffaf"/><stop offset=".31" stop-color="#92fda9"/><stop offset=".36" stop-color="#9bfba5"/><stop offset=".42" stop-color="#9efaa2"/><stop offset=".47" stop-color="#a0faa1"/><stop offset=".65" stop-color="#a4f89f"/><stop offset=".82" stop-color="#a4f89f"/><stop offset="1" stop-color="#a6f89d"/></linearGradient><linearGradient id="r59"><stop offset="0" stop-color="#6a22fe"/><stop offset=".02" stop-color="#425ffa"/><stop offset=".04" stop-color="#1e91f3"/><stop offset=".06" stop-color="#00b5eb"/><stop offset=".08" stop-color="#1acfe3"/><stop offset=".1" stop-color="#30e1da"/><stop offset=".12" stop-color="#44eed2"/><stop offset=".14" stop-color="#54f6cb"/><stop offset=".16" stop-color="#60fac5"/><stop offset=".21" stop-color="#7dffb6"/><stop offset=".26" stop-color="#8efeac"/><stop offset=".31" stop-color="#99fca6"/><stop offset=".36" stop-color="#a0faa1"/><stop offset=".42" stop-color="#a4f89f"/><stop offset=".47" stop-color="#a6f89d"/><stop offset=".65" stop-color="#abf69b"/><stop offset=".82" stop-color="#acf59a"/><stop offset="1" stop-color="#acf59a"/></linearGradient><linearGradient id="r60"><stop offset="0" stop-color="#6a22fe"/><stop offset=".02" stop-color="#4062fa"/><stop offset=".04" stop-color="#1c93f3"/><stop offset=".06" stop-color="#02b7eb"/><stop offset=".08" stop-color="#1fd3e1"/><stop offset=".1" stop-color="#34e4d9"/><stop offset=".12" stop-color="#48f1d0"/><stop offset=".14" stop-color="#58f8c9"/><stop offset=".16" stop-color="#66fcc2"/><stop offset=".21" stop-color="#82ffb3"/><stop offset=".26" stop-color="#94fda8"/><stop offset=".31" stop-color="#9efaa2"/><stop offset=".36" stop-color="#a6f89d"/><stop offset=".42" stop-color="#abf69b"/><stop offset=".47" stop-color="#aef498"/><stop offset=".65" stop-color="#b2f396"/><stop offset=".82" stop-color="#b2f396"/><stop offset="1" stop-color="#b2f396"/></linearGradient><linearGradient id="r61"><stop offset="0" stop-color="#6a22fe"/><stop offset=".02" stop-color="#4062fa"/><stop offset=".04" stop-color="#1996f3"/><stop offset=".06" stop-color="#07bbea"/><stop offset=".08" stop-color="#20d5e1"/><stop offset=".1" stop-color="#38e7d7"/><stop offset=".12" stop-color="#4df3ce"/><stop offset=".14" stop-color="#5df9c7"/><stop offset=".16" stop-color="#6afdc0"/><stop offset=".21" stop-color="#88ffaf"/><stop offset=".26" stop-color="#9bfba5"/><stop offset=".31" stop-color="#a4f89f"/><stop offset=".36" stop-color="#acf59a"/><stop offset=".42" stop-color="#b0f397"/><stop offset=".47" stop-color="#b4f295"/><stop offset=".65" stop-color="#b9ef92"/><stop offset=".82" stop-color="#b9ef92"/><stop offset="1" stop-color="#b9ef92"/></linearGradient><linearGradient id="r62"><stop offset="0" stop-color="#6a22fe"/><stop offset=".02" stop-color="#3e65fa"/><stop offset=".04" stop-color="#1898f2"/><stop offset=".06" stop-color="#08bee9"/><stop offset=".08" stop-color="#24d8df"/><stop offset=".1" stop-color="#3dead5"/><stop offset=".12" stop-color="#50f4cc"/><stop offset=".14" stop-color="#62fbc4"/><stop offset=".16" stop-color="#70febc"/><stop offset=".21" stop-color="#8cfead"/><stop offset=".26" stop-color="#a0faa1"/><stop offset=".31" stop-color="#acf59a"/><stop offset=".36" stop-color="#b2f396"/><stop offset=".42" stop-color="#b9ef92"/><stop offset=".47" stop-color="#bbee91"/><stop offset=".65" stop-color="#beec8e"/><stop offset=".82" stop-color="#c0eb8d"/><stop offset="1" stop-color="#c0eb8d"/></linearGradient><linearGradient id="r63"><stop offset="0" stop-color="#6826fe"/><stop offset=".02" stop-color="#3c68f9"/><stop offset=".04" stop-color="#169bf2"/><stop offset=".06" stop-color="#0dc2e8"/><stop offset=".08" stop-color="#28dbde"/><stop offset=".1" stop-color="#40ecd4"/><stop offset=".12" stop-color="#54f6cb"/><stop offset=".14" stop-color="#66fcc2"/><stop offset=".16" stop-color="#76ffb9"/><stop offset=".21" stop-color="#92fda9"/><stop offset=".26" stop-color="#a6f89d"/><stop offset=".31" stop-color="#b2f396"/><stop offset=".36" stop-color="#bbee91"/><stop offset=".42" stop-color="#beec8e"/><stop offset=".47" stop-color="#c2ea8c"/><stop offset=".65" stop-color="#c6e789"/><stop offset=".82" stop-color="#c6e789"/><stop offset="1" stop-color="#c6e789"/></linearGradient><linearGradient id="r64"><stop offset="0" stop-color="#6826fe"/><stop offset=".02" stop-color="#396bf9"/><stop offset=".04" stop-color="#149df1"/><stop offset=".06" stop-color="#0fc4e7"/><stop offset=".08" stop-color="#2ddedc"/><stop offset=".1" stop-color="#44eed2"/><stop offset=".12" stop-color="#5af8c8"/><stop offset=".14" stop-color="#6dfdbf"/><stop offset=".16" stop-color="#7affb7"/><stop offset=".21" stop-color="#99fca6"/><stop offset=".26" stop-color="#acf59a"/><stop offset=".31" stop-color="#b9ef92"/><stop offset=".36" stop-color="#c0eb8d"/><stop offset=".42" stop-color="#c4e88a"/><stop offset=".47" stop-color="#c8e688"/><stop offset=".65" stop-color="#cce385"/><stop offset=".82" stop-color="#cee184"/><stop offset="1" stop-color="#cee184"/></linearGradient><linearGradient id="r65"><stop offset="0" stop-color="#6826fe"/><stop offset=".02" stop-color="#396bf9"/><stop offset=".04" stop-color="#11a0f1"/><stop offset=".06" stop-color="#10c6e6"/><stop offset=".08" stop-color="#2fe0db"/><stop offset=".1" stop-color="#48f1d0"/><stop offset=".12" stop-color="#5df9c7"/><stop offset=".14" stop-color="#70febc"/><stop offset=".16" stop-color="#7effb5"/><stop offset=".21" stop-color="#9efaa2"/><stop offset=".26" stop-color="#b0f397"/><stop offset=".31" stop-color="#beec8e"/><stop offset=".36" stop-color="#c6e789"/><stop offset=".42" stop-color="#cbe486"/><stop offset=".47" stop-color="#cee184"/><stop offset=".65" stop-color="#d2de81"/><stop offset=".82" stop-color="#d2de81"/><stop offset="1" stop-color="#d2de81"/></linearGradient><linearGradient id="r66"><stop offset="0" stop-color="#6826fe"/><stop offset=".02" stop-color="#386df9"/><stop offset=".04" stop-color="#10a2f0"/><stop offset=".06" stop-color="#12c8e6"/><stop offset=".08" stop-color="#30e1da"/><stop offset=".1" stop-color="#4af2cf"/><stop offset=".12" stop-color="#60fac5"/><stop offset=".14" stop-color="#72febb"/><stop offset=".16" stop-color="#82ffb3"/><stop offset=".21" stop-color="#a0faa1"/><stop offset=".26" stop-color="#b4f295"/><stop offset=".31" stop-color="#c0eb8d"/><stop offset=".36" stop-color="#c8e688"/><stop offset=".42" stop-color="#cee184"/><stop offset=".47" stop-color="#d0e082"/><stop offset=".65" stop-color="#d6db7e"/><stop offset=".82" stop-color="#d6db7e"/><stop offset="1" stop-color="#d6db7e"/></linearGradient><linearGradient id="r67"><stop offset="0" stop-color="#6629fe"/><stop offset=".02" stop-color="#386df9"/><stop offset=".04" stop-color="#10a2f0"/><stop offset=".06" stop-color="#14cae5"/><stop offset=".08" stop-color="#32e3da"/><stop offset=".1" stop-color="#4df3ce"/><stop offset=".12" stop-color="#62fbc4"/><stop offset=".14" stop-color="#74feba"/><stop offset=".16" stop-color="#84ffb2"/><stop offset=".21" stop-color="#a4f89f"/><stop offset=".26" stop-color="#b9ef92"/><stop offset=".31" stop-color="#c4e88a"/><stop offset=".36" stop-color="#cce385"/><stop offset=".42" stop-color="#d0e082"/><stop offset=".47" stop-color="#d4dd80"/><stop offset=".65" stop-color="#d9da7d"/><stop offset=".82" stop-color="#dbd87b"/><stop offset="1" stop-color="#dbd87b"/></linearGradient><linearGradient id="r68"><stop offset="0" stop-color="#6629fe"/><stop offset=".02" stop-color="#386df9"/><stop offset=".04" stop-color="#0ea5ef"/><stop offset=".06" stop-color="#17cbe4"/><stop offset=".08" stop-color="#34e4d9"/><stop offset=".1" stop-color="#4ef3cd"/><stop offset=".12" stop-color="#64fbc3"/><stop offset=".14" stop-color="#76ffb9"/><stop offset=".16" stop-color="#86ffb0"/><stop offset=".21" stop-color="#a6f89d"/><stop offset=".26" stop-color="#bbee91"/><stop offset=".31" stop-color="#c8e688"/><stop offset=".36" stop-color="#d0e082"/><stop offset=".42" stop-color="#d4dd80"/><stop offset=".47" stop-color="#d9da7d"/><stop offset=".65" stop-color="#dcd67a"/><stop offset=".82" stop-color="#ded579"/><stop offset="1" stop-color="#ded579"/></linearGradient><linearGradient id="r69"><stop offset="0" stop-color="#6629fe"/><stop offset=".02" stop-color="#3670f8"/><stop offset=".04" stop-color="#0ca7ef"/><stop offset=".06" stop-color="#18cde4"/><stop offset=".08" stop-color="#37e6d8"/><stop offset=".1" stop-color="#50f4cc"/><stop offset=".12" stop-color="#66fcc2"/><stop offset=".14" stop-color="#7affb7"/><stop offset=".16" stop-color="#8bfeae"/><stop offset=".21" stop-color="#abf69b"/><stop offset=".26" stop-color="#beec8e"/><stop offset=".31" stop-color="#cbe486"/><stop offset=".36" stop-color="#d2de81"/><stop offset=".42" stop-color="#d9da7d"/><stop offset=".47" stop-color="#dcd67a"/><stop offset=".65" stop-color="#e0d377"/><stop offset=".82" stop-color="#e0d377"/><stop offset="1" stop-color="#e0d377"/></linearGradient><linearGradient id="r70"><stop offset="0" stop-color="#6629fe"/><stop offset=".02" stop-color="#3670f8"/><stop offset=".04" stop-color="#0ca7ef"/><stop offset=".06" stop-color="#18cde4"/><stop offset=".08" stop-color="#38e7d7"/><stop offset=".1" stop-color="#52f5cb"/><stop offset=".12" stop-color="#68fcc1"/><stop offset=".14" stop-color="#7dffb6"/><stop offset=".16" stop-color="#8cfead"/><stop offset=".21" stop-color="#acf59a"/><stop offset=".26" stop-color="#c0eb8d"/><stop offset=".31" stop-color="#cee184"/><stop offset=".36" stop-color="#d6db7e"/><stop offset=".42" stop-color="#dcd67a"/><stop offset=".47" stop-color="#ded579"/><stop offset=".65" stop-color="#e4cf74"/><stop offset=".82" stop-color="#e4cf74"/><stop offset="1" stop-color="#e4cf74"/></linearGradient><linearGradient id="r71"><stop offset="0" stop-color="#6629fe"/><stop offset=".02" stop-color="#3473f8"/><stop offset=".04" stop-color="#09a9ee"/><stop offset=".06" stop-color="#1acfe3"/><stop offset=".08" stop-color="#3ae8d6"/><stop offset=".1" stop-color="#54f6cb"/><stop offset=".12" stop-color="#6dfdbf"/><stop offset=".14" stop-color="#7effb5"/><stop offset=".16" stop-color="#8efeac"/><stop offset=".21" stop-color="#b0f397"/><stop offset=".26" stop-color="#c4e88a"/><stop offset=".31" stop-color="#d2de81"/><stop offset=".36" stop-color="#dbd87b"/><stop offset=".42" stop-color="#e0d377"/><stop offset=".47" stop-color="#e2d176"/><stop offset=".65" stop-color="#e8cb72"/><stop offset=".82" stop-color="#e8cb72"/><stop offset="1" stop-color="#e8cb72"/></linearGradient><linearGradient id="r72"><stop offset="0" stop-color="#6629fe"/><stop offset=".02" stop-color="#3473f8"/><stop offset=".04" stop-color="#08acee"/><stop offset=".06" stop-color="#1dd1e2"/><stop offset=".08" stop-color="#3dead5"/><stop offset=".1" stop-color="#56f7ca"/><stop offset=".12" stop-color="#6efebe"/><stop offset=".14" stop-color="#82ffb3"/><stop offset=".16" stop-color="#92fda9"/><stop offset=".21" stop-color="#b2f396"/><stop offset=".26" stop-color="#c8e688"/><stop offset=".31" stop-color="#d4dd80"/><stop offset=".36" stop-color="#ded579"/><stop offset=".42" stop-color="#e2d176"/><stop offset=".47" stop-color="#e6cd73"/><stop offset=".65" stop-color="#ebca70"/><stop offset=".82" stop-color="#ecc86f"/><stop offset="1" stop-color="#ecc86f"/></linearGradient><linearGradient id="r73"><stop offset="0" stop-color="#642cfe"/><stop offset=".02" stop-color="#3176f8"/><stop offset=".04" stop-color="#08acee"/><stop offset=".06" stop-color="#1fd3e1"/><stop offset=".08" stop-color="#3febd5"/><stop offset=".1" stop-color="#58f8c9"/><stop offset=".12" stop-color="#70febc"/><stop offset=".14" stop-color="#84ffb2"/><stop offset=".16" stop-color="#94fda8"/><stop offset=".21" stop-color="#b6f193"/><stop offset=".26" stop-color="#cce385"/><stop offset=".31" stop-color="#d9da7d"/><stop offset=".36" stop-color="#e2d176"/><stop offset=".42" stop-color="#e6cd73"/><stop offset=".47" stop-color="#ebca70"/><stop offset=".65" stop-color="#eec66d"/><stop offset=".82" stop-color="#f0c46c"/><stop offset="1" stop-color="#f0c46c"/></linearGradient><linearGradient id="r74"><stop offset="0" stop-color="#642cfe"/><stop offset=".02" stop-color="#3176f8"/><stop offset=".04" stop-color="#06aeed"/><stop offset=".06" stop-color="#20d5e1"/><stop offset=".08" stop-color="#40ecd4"/><stop offset=".1" stop-color="#5df9c7"/><stop offset=".12" stop-color="#74feba"/><stop offset=".14" stop-color="#86ffb0"/><stop offset=".16" stop-color="#99fca6"/><stop offset=".21" stop-color="#bbee91"/><stop offset=".26" stop-color="#cee184"/><stop offset=".31" stop-color="#dcd67a"/><stop offset=".36" stop-color="#e6cd73"/><stop offset=".42" stop-color="#ebca70"/><stop offset=".47" stop-color="#eec66d"/><stop offset=".65" stop-color="#f4c069"/><stop offset=".82" stop-color="#f4c069"/><stop offset="1" stop-color="#f4c069"/></linearGradient><linearGradient id="r75"><stop offset="0" stop-color="#642cfe"/><stop offset=".02" stop-color="#3079f7"/><stop offset=".04" stop-color="#04b0ed"/><stop offset=".06" stop-color="#22d6e0"/><stop offset=".08" stop-color="#42edd3"/><stop offset=".1" stop-color="#5efac6"/><stop offset=".12" stop-color="#76ffb9"/><stop offset=".14" stop-color="#8bfeae"/><stop offset=".16" stop-color="#9cfba4"/><stop offset=".21" stop-color="#beec8e"/><stop offset=".26" stop-color="#d4dd80"/><stop offset=".31" stop-color="#e0d377"/><stop offset=".36" stop-color="#ebca70"/><stop offset=".42" stop-color="#f0c46c"/><stop offset=".47" stop-color="#f2c26b"/><stop offset=".65" stop-color="#f9bb66"/><stop offset=".82" stop-color="#f9bb66"/><stop offset="1" stop-color="#f9bb66"/></linearGradient><linearGradient id="r76"><stop offset="0" stop-color="#642cfe"/><stop offset=".02" stop-color="#3079f7"/><stop offset=".04" stop-color="#04b0ed"/><stop offset=".06" stop-color="#24d8df"/><stop offset=".08" stop-color="#44eed2"/><stop offset=".1" stop-color="#60fac5"/><stop offset=".12" stop-color="#7affb7"/><stop offset=".14" stop-color="#8efeac"/><stop offset=".16" stop-color="#9efaa2"/><stop offset=".21" stop-color="#c2ea8c"/><stop offset=".26" stop-color="#d9da7d"/><stop offset=".31" stop-color="#e6cd73"/><stop offset=".36" stop-color="#eec66d"/><stop offset=".42" stop-color="#f4c069"/><stop offset=".47" stop-color="#f9bb66"/><stop offset=".65" stop-color="#fcb763"/><stop offset=".82" stop-color="#feb562"/><stop offset="1" stop-color="#feb562"/></linearGradient><linearGradient id="r77"><stop offset="0" stop-color="#642cfe"/><stop offset=".02" stop-color="#2e7bf7"/><stop offset=".04" stop-color="#01b3ec"/><stop offset=".06" stop-color="#27dade"/><stop offset=".08" stop-color="#48f1d0"/><stop offset=".1" stop-color="#64fbc3"/><stop offset=".12" stop-color="#7dffb6"/><stop offset=".14" stop-color="#90feab"/><stop offset=".16" stop-color="#a2f9a0"/><stop offset=".21" stop-color="#c6e789"/><stop offset=".26" stop-color="#dcd67a"/><stop offset=".31" stop-color="#ebca70"/><stop offset=".36" stop-color="#f2c26b"/><stop offset=".42" stop-color="#f9bb66"/><stop offset=".47" stop-color="#fcb763"/><stop offset=".65" stop-color="#ffb05f"/><stop offset=".82" stop-color="#ffb05f"/><stop offset="1" stop-color="#ffb05f"/></linearGradient><linearGradient id="r78"><stop offset="0" stop-color="#622ffe"/><stop offset=".02" stop-color="#2e7bf7"/><stop offset=".04" stop-color="#00b5eb"/><stop offset=".06" stop-color="#28dbde"/><stop offset=".08" stop-color="#4af2cf"/><stop offset=".1" stop-color="#66fcc2"/><stop offset=".12" stop-color="#80ffb4"/><stop offset=".14" stop-color="#94fda8"/><stop offset=".16" stop-color="#a6f89d"/><stop offset=".21" stop-color="#cbe486"/><stop offset=".26" stop-color="#e0d377"/><stop offset=".31" stop-color="#eec66d"/><stop offset=".36" stop-color="#f9bb66"/><stop offset=".42" stop-color="#feb562"/><stop offset=".47" stop-color="#ffb05f"/><stop offset=".65" stop-color="#ffac5c"/><stop offset=".82" stop-color="#ffa95b"/><stop offset="1" stop-color="#ffa95b"/></linearGradient><linearGradient id="r79"><stop offset="0" stop-color="#622ffe"/><stop offset=".02" stop-color="#2c7ef7"/><stop offset=".04" stop-color="#02b7eb"/><stop offset=".06" stop-color="#2adddd"/><stop offset=".08" stop-color="#4df3ce"/><stop offset=".1" stop-color="#6afdc0"/><stop offset=".12" stop-color="#82ffb3"/><stop offset=".14" stop-color="#99fca6"/><stop offset=".16" stop-color="#abf69b"/><stop offset=".21" stop-color="#cee184"/><stop offset=".26" stop-color="#e4cf74"/><stop offset=".31" stop-color="#f4c069"/><stop offset=".36" stop-color="#fcb763"/><stop offset=".42" stop-color="#ffb05f"/><stop offset=".47" stop-color="#ffac5c"/><stop offset=".65" stop-color="#ffa558"/><stop offset=".82" stop-color="#ffa558"/><stop offset="1" stop-color="#ffa558"/></linearGradient><linearGradient id="r80"><stop offset="0" stop-color="#622ffe"/><stop offset=".02" stop-color="#2c7ef7"/><stop offset=".04" stop-color="#04b9ea"/><stop offset=".06" stop-color="#2ddedc"/><stop offset=".08" stop-color="#50f4cc"/><stop offset=".1" stop-color="#6dfdbf"/><stop offset=".12" stop-color="#86ffb0"/><stop offset=".14" stop-color="#9cfba4"/><stop offset=".16" stop-color="#aef498"/><stop offset=".21" stop-color="#d2de81"/><stop offset=".26" stop-color="#ebca70"/><stop offset=".31" stop-color="#f9bb66"/><stop offset=".36" stop-color="#ffb05f"/><stop offset=".42" stop-color="#ffa95b"/><stop offset=".47" stop-color="#ffa558"/><stop offset=".65" stop-color="#ffa055"/><stop offset=".82" stop-color="#ff9d53"/><stop offset="1" stop-color="#ff9d53"/></linearGradient><linearGradient id="r81"><stop offset="0" stop-color="#622ffe"/><stop offset=".02" stop-color="#2981f6"/><stop offset=".04" stop-color="#07bbea"/><stop offset=".06" stop-color="#2fe0db"/><stop offset=".08" stop-color="#52f5cb"/><stop offset=".1" stop-color="#70febc"/><stop offset=".12" stop-color="#8bfeae"/><stop offset=".14" stop-color="#a0faa1"/><stop offset=".16" stop-color="#b2f396"/><stop offset=".21" stop-color="#d6db7e"/><stop offset=".26" stop-color="#eec66d"/><stop offset=".31" stop-color="#fcb763"/><stop offset=".36" stop-color="#ffac5c"/><stop offset=".42" stop-color="#ffa558"/><stop offset=".47" stop-color="#ffa055"/><stop offset=".65" stop-color="#ff9850"/><stop offset=".82" stop-color="#ff9850"/><stop offset="1" stop-color="#ff9850"/></linearGradient><linearGradient id="r82"><stop offset="0" stop-color="#6032fe"/><stop offset=".02" stop-color="#2981f6"/><stop offset=".04" stop-color="#08bee9"/><stop offset=".06" stop-color="#30e1da"/><stop offset=".08" stop-color="#54f6cb"/><stop offset=".1" stop-color="#72febb"/><stop offset=".12" stop-color="#8cfead"/><stop offset=".14" stop-color="#a2f9a0"/><stop offset=".16" stop-color="#b6f193"/><stop offset=".21" stop-color="#dbd87b"/><stop offset=".26" stop-color="#f2c26b"/><stop offset=".31" stop-color="#ffb05f"/><stop offset=".36" stop-color="#ffa558"/><stop offset=".42" stop-color="#ff9d53"/><stop offset=".47" stop-color="#ff9850"/><stop offset=".65" stop-color="#ff934d"/><stop offset=".82" stop-color="#ff914c"/><stop offset="1" stop-color="#ff914c"/></linearGradient><linearGradient id="r83"><stop offset="0" stop-color="#6032fe"/><stop offset=".02" stop-color="#2884f6"/><stop offset=".04" stop-color="#08bee9"/><stop offset=".06" stop-color="#34e4d9"/><stop offset=".08" stop-color="#58f8c9"/><stop offset=".1" stop-color="#76ffb9"/><stop offset=".12" stop-color="#90feab"/><stop offset=".14" stop-color="#a6f89d"/><stop offset=".16" stop-color="#bbee91"/><stop offset=".21" stop-color="#e0d377"/><stop offset=".26" stop-color="#f9bb66"/><stop offset=".31" stop-color="#ffac5c"/><stop offset=".36" stop-color="#ffa055"/><stop offset=".42" stop-color="#ff9850"/><stop offset=".47" stop-color="#ff934d"/><stop offset=".65" stop-color="#ff8c49"/><stop offset=".82" stop-color="#ff8947"/><stop offset="1" stop-color="#ff8947"/></linearGradient><linearGradient id="r84"><stop offset="0" stop-color="#6032fe"/><stop offset=".02" stop-color="#2884f6"/><stop offset=".04" stop-color="#0ac0e8"/><stop offset=".06" stop-color="#37e6d8"/><stop offset=".08" stop-color="#5af8c8"/><stop offset=".1" stop-color="#7affb7"/><stop offset=".12" stop-color="#94fda8"/><stop offset=".14" stop-color="#abf69b"/><stop offset=".16" stop-color="#beec8e"/><stop offset=".21" stop-color="#e4cf74"/><stop offset=".26" stop-color="#fcb763"/><stop offset=".31" stop-color="#ffa558"/><stop offset=".36" stop-color="#ff9850"/><stop offset=".42" stop-color="#ff914c"/><stop offset=".47" stop-color="#ff8c49"/><stop offset=".65" stop-color="#ff8444"/><stop offset=".82" stop-color="#ff8444"/><stop offset="1" stop-color="#ff8444"/></linearGradient><linearGradient id="r85"><stop offset="0" stop-color="#6032fe"/><stop offset=".02" stop-color="#2686f5"/><stop offset=".04" stop-color="#0dc2e8"/><stop offset=".06" stop-color="#38e7d7"/><stop offset=".08" stop-color="#5df9c7"/><stop offset=".1" stop-color="#7dffb6"/><stop offset=".12" stop-color="#99fca6"/><stop offset=".14" stop-color="#aef498"/><stop offset=".16" stop-color="#c2ea8c"/><stop offset=".21" stop-color="#e8cb72"/><stop offset=".26" stop-color="#ffb360"/><stop offset=".31" stop-color="#ffa055"/><stop offset=".36" stop-color="#ff934d"/><stop offset=".42" stop-color="#ff8c49"/><stop offset=".47" stop-color="#ff8646"/><stop offset=".65" stop-color="#ff7e41"/><stop offset=".82" stop-color="#ff7b40"/><stop offset="1" stop-color="#ff7b40"/></linearGradient><linearGradient id="r86"><stop offset="0" stop-color="#6032fe"/><stop offset=".02" stop-color="#2489f5"/><stop offset=".04" stop-color="#0fc4e7"/><stop offset=".06" stop-color="#3ae8d6"/><stop offset=".08" stop-color="#60fac5"/><stop offset=".1" stop-color="#80ffb4"/><stop offset=".12" stop-color="#9bfba5"/><stop offset=".14" stop-color="#b2f396"/><stop offset=".16" stop-color="#c6e789"/><stop offset=".21" stop-color="#ecc86f"/><stop offset=".26" stop-color="#ffac5c"/><stop offset=".31" stop-color="#ff9850"/><stop offset=".36" stop-color="#ff8c49"/><stop offset=".42" stop-color="#ff8444"/><stop offset=".47" stop-color="#ff7e41"/><stop offset=".65" stop-color="#ff763d"/><stop offset=".82" stop-color="#ff763d"/><stop offset="1" stop-color="#ff763d"/></linearGradient><linearGradient id="r87"><stop offset="0" stop-color="#5e35fe"/><stop offset=".02" stop-color="#2489f5"/><stop offset=".04" stop-color="#10c6e6"/><stop offset=".06" stop-color="#3dead5"/><stop offset=".08" stop-color="#62fbc4"/><stop offset=".1" stop-color="#82ffb3"/><stop offset=".12" stop-color="#9efaa2"/><stop offset=".14" stop-color="#b4f295"/><stop offset=".16" stop-color="#c8e688"/><stop offset=".21" stop-color="#f0c46c"/><stop offset=".26" stop-color="#ffa759"/><stop offset=".31" stop-color="#ff934d"/><stop offset=".36" stop-color="#ff8646"/><stop offset=".42" stop-color="#ff7e41"/><stop offset=".47" stop-color="#ff793e"/><stop offset=".65" stop-color="#ff703a"/><stop offset=".82" stop-color="#ff6d38"/><stop offset="1" stop-color="#ff6d38"/></linearGradient><linearGradient id="r88"><stop offset="0" stop-color="#5e35fe"/><stop offset=".02" stop-color="#218cf4"/><stop offset=".04" stop-color="#12c8e6"/><stop offset=".06" stop-color="#3febd5"/><stop offset=".08" stop-color="#64fbc3"/><stop offset=".1" stop-color="#84ffb2"/><stop offset=".12" stop-color="#a0faa1"/><stop offset=".14" stop-color="#b9ef92"/><stop offset=".16" stop-color="#cce385"/><stop offset=".21" stop-color="#f4c069"/><stop offset=".26" stop-color="#ffa256"/><stop offset=".31" stop-color="#ff8e4a"/><stop offset=".36" stop-color="#ff8143"/><stop offset=".42" stop-color="#ff763d"/><stop offset=".47" stop-color="#ff703a"/><stop offset=".65" stop-color="#ff6835"/><stop offset=".82" stop-color="#ff6835"/><stop offset="1" stop-color="#ff6835"/></linearGradient><linearGradient id="r89"><stop offset="0" stop-color="#5e35fe"/><stop offset=".02" stop-color="#218cf4"/><stop offset=".04" stop-color="#12c8e6"/><stop offset=".06" stop-color="#40ecd4"/><stop offset=".08" stop-color="#66fcc2"/><stop offset=".1" stop-color="#88ffaf"/><stop offset=".12" stop-color="#a4f89f"/><stop offset=".14" stop-color="#bced8f"/><stop offset=".16" stop-color="#d0e082"/><stop offset=".21" stop-color="#f9bb66"/><stop offset=".26" stop-color="#ff9d53"/><stop offset=".31" stop-color="#ff8947"/><stop offset=".36" stop-color="#ff793e"/><stop offset=".42" stop-color="#ff703a"/><stop offset=".47" stop-color="#ff6b37"/><stop offset=".65" stop-color="#ff6232"/><stop offset=".82" stop-color="#ff6232"/><stop offset="1" stop-color="#ff5f30"/></linearGradient><linearGradient id="r90"><stop offset="0" stop-color="#5e35fe"/><stop offset=".02" stop-color="#208ef4"/><stop offset=".04" stop-color="#14cae5"/><stop offset=".06" stop-color="#42edd3"/><stop offset=".08" stop-color="#68fcc1"/><stop offset=".1" stop-color="#8bfeae"/><stop offset=".12" stop-color="#a6f89d"/><stop offset=".14" stop-color="#beec8e"/><stop offset=".16" stop-color="#d4dd80"/><stop offset=".21" stop-color="#fcb763"/><stop offset=".26" stop-color="#ff9850"/><stop offset=".31" stop-color="#ff8444"/><stop offset=".36" stop-color="#ff733b"/><stop offset=".42" stop-color="#ff6b37"/><stop offset=".47" stop-color="#ff6533"/><stop offset=".65" stop-color="#ff5c2f"/><stop offset=".82" stop-color="#ff592d"/><stop offset="1" stop-color="#ff592d"/></linearGradient><linearGradient id="r91"><stop offset="0" stop-color="#5e35fe"/><stop offset=".02" stop-color="#208ef4"/><stop offset=".04" stop-color="#17cbe4"/><stop offset=".06" stop-color="#44eed2"/><stop offset=".08" stop-color="#6afdc0"/><stop offset=".1" stop-color="#8cfead"/><stop offset=".12" stop-color="#abf69b"/><stop offset=".14" stop-color="#c2ea8c"/><stop offset=".16" stop-color="#d6db7e"/><stop offset=".21" stop-color="#ffb360"/><stop offset=".26" stop-color="#ff934d"/><stop offset=".31" stop-color="#ff7e41"/><stop offset=".36" stop-color="#ff6d38"/><stop offset=".42" stop-color="#ff6533"/><stop offset=".47" stop-color="#ff5f30"/><stop offset=".65" stop-color="#ff562c"/><stop offset=".82" stop-color="#ff532a"/><stop offset="1" stop-color="#ff532a"/></linearGradient><linearGradient id="r92"><stop offset="0" stop-color="#5c38fd"/><stop offset=".02" stop-color="#208ef4"/><stop offset=".04" stop-color="#17cbe4"/><stop offset=".06" stop-color="#46efd1"/><stop offset=".08" stop-color="#6dfdbf"/><stop offset=".1" stop-color="#8efeac"/><stop offset=".12" stop-color="#acf59a"/><stop offset=".14" stop-color="#c4e88a"/><stop offset=".16" stop-color="#dbd87b"/><stop offset=".21" stop-color="#ffb05f"/><stop offset=".26" stop-color="#ff8e4a"/><stop offset=".31" stop-color="#ff793e"/><stop offset=".36" stop-color="#ff6835"/><stop offset=".42" stop-color="#ff5f30"/><stop offset=".47" stop-color="#ff592d"/><stop offset=".65" stop-color="#ff5029"/><stop offset=".82" stop-color="#ff4d27"/><stop offset="1" stop-color="#ff4d27"/></linearGradient><linearGradient id="r93"><stop offset="0" stop-color="#5c38fd"/><stop offset=".02" stop-color="#1e91f3"/><stop offset=".04" stop-color="#18cde4"/><stop offset=".06" stop-color="#46efd1"/><stop offset=".08" stop-color="#6efebe"/><stop offset=".1" stop-color="#90feab"/><stop offset=".12" stop-color="#aef498"/><stop offset=".14" stop-color="#c6e789"/><stop offset=".16" stop-color="#dcd67a"/><stop offset=".21" stop-color="#ffac5c"/><stop offset=".26" stop-color="#ff8c49"/><stop offset=".31" stop-color="#ff733b"/><stop offset=".36" stop-color="#ff6533"/><stop offset=".42" stop-color="#ff592d"/><stop offset=".47" stop-color="#ff532a"/><stop offset=".65" stop-color="#ff4a26"/><stop offset=".82" stop-color="#ff4724"/><stop offset="1" stop-color="#ff4724"/></linearGradient><linearGradient id="r94"><stop offset="0" stop-color="#5c38fd"/><stop offset=".02" stop-color="#1e91f3"/><stop offset=".04" stop-color="#18cde4"/><stop offset=".06" stop-color="#48f1d0"/><stop offset=".08" stop-color="#70febc"/><stop offset=".1" stop-color="#92fda9"/><stop offset=".12" stop-color="#b0f397"/><stop offset=".14" stop-color="#cbe486"/><stop offset=".16" stop-color="#ded579"/><stop offset=".21" stop-color="#ffa95b"/><stop offset=".26" stop-color="#ff8646"/><stop offset=".31" stop-color="#ff6d38"/><stop offset=".36" stop-color="#ff5f30"/><stop offset=".42" stop-color="#ff532a"/><stop offset=".47" stop-color="#ff4d27"/><stop offset=".65" stop-color="#ff4422"/><stop offset=".82" stop-color="#ff4422"/><stop offset="1" stop-color="#ff4121"/></linearGradient><linearGradient id="r95"><stop offset="0" stop-color="#5c38fd"/><stop offset=".02" stop-color="#1e91f3"/><stop offset=".04" stop-color="#1acfe3"/><stop offset=".06" stop-color="#4af2cf"/><stop offset=".08" stop-color="#72febb"/><stop offset=".1" stop-color="#94fda8"/><stop offset=".12" stop-color="#b2f396"/><stop offset=".14" stop-color="#cce385"/><stop offset=".16" stop-color="#e0d377"/><stop offset=".21" stop-color="#ffa558"/><stop offset=".26" stop-color="#ff8444"/><stop offset=".31" stop-color="#ff6b37"/><stop offset=".36" stop-color="#ff592d"/><stop offset=".42" stop-color="#ff5029"/><stop offset=".47" stop-color="#ff4a26"/><stop offset=".65" stop-color="#ff4121"/><stop offset=".82" stop-color="#ff3e1f"/><stop offset="1" stop-color="#ff3e1f"/></linearGradient><linearGradient id="r96"><stop offset="0" stop-color="#5c38fd"/><stop offset=".02" stop-color="#1c93f3"/><stop offset=".04" stop-color="#1acfe3"/><stop offset=".06" stop-color="#4af2cf"/><stop offset=".08" stop-color="#74feba"/><stop offset=".1" stop-color="#96fca7"/><stop offset=".12" stop-color="#b4f295"/><stop offset=".14" stop-color="#cee184"/><stop offset=".16" stop-color="#e4cf74"/><stop offset=".21" stop-color="#ffa256"/><stop offset=".26" stop-color="#ff7e41"/><stop offset=".31" stop-color="#ff6533"/><stop offset=".36" stop-color="#ff562c"/><stop offset=".42" stop-color="#ff4a26"/><stop offset=".47" stop-color="#ff4422"/><stop offset=".65" stop-color="#ff3b1e"/><stop offset=".82" stop-color="#ff381c"/><stop offset="1" stop-color="#ff381c"/></linearGradient><linearGradient id="r97"><stop offset="0" stop-color="#5c38fd"/><stop offset=".02" stop-color="#1c93f3"/><stop offset=".04" stop-color="#1dd1e2"/><stop offset=".06" stop-color="#4df3ce"/><stop offset=".08" stop-color="#74feba"/><stop offset=".1" stop-color="#99fca6"/><stop offset=".12" stop-color="#b6f193"/><stop offset=".14" stop-color="#d0e082"/><stop offset=".16" stop-color="#e6cd73"/><stop offset=".21" stop-color="#ffa055"/><stop offset=".26" stop-color="#ff7b40"/><stop offset=".31" stop-color="#ff6232"/><stop offset=".36" stop-color="#ff5029"/><stop offset=".42" stop-color="#ff4724"/><stop offset=".47" stop-color="#ff3e1f"/><stop offset=".65" stop-color="#ff351b"/><stop offset=".82" stop-color="#ff351b"/><stop offset="1" stop-color="#ff3219"/></linearGradient><linearGradient id="r98"><stop offset="0" stop-color="#5c38fd"/><stop offset=".02" stop-color="#1c93f3"/><stop offset=".04" stop-color="#1dd1e2"/><stop offset=".06" stop-color="#4df3ce"/><stop offset=".08" stop-color="#76ffb9"/><stop offset=".1" stop-color="#9bfba5"/><stop offset=".12" stop-color="#b9ef92"/><stop offset=".14" stop-color="#d2de81"/><stop offset=".16" stop-color="#e8cb72"/><stop offset=".21" stop-color="#ff9b52"/><stop offset=".26" stop-color="#ff763d"/><stop offset=".31" stop-color="#ff5c2f"/><stop offset=".36" stop-color="#ff4d27"/><stop offset=".42" stop-color="#ff4121"/><stop offset=".47" stop-color="#ff3b1e"/><stop offset=".65" stop-color="#ff3219"/><stop offset=".82" stop-color="#ff2f18"/><stop offset="1" stop-color="#ff2f18"/></linearGradient><linearGradient id="r99"><stop offset="0" stop-color="#5c38fd"/><stop offset=".02" stop-color="#1c93f3"/><stop offset=".04" stop-color="#1fd3e1"/><stop offset=".06" stop-color="#4ef3cd"/><stop offset=".08" stop-color="#78ffb8"/><stop offset=".1" stop-color="#9cfba4"/><stop offset=".12" stop-color="#bbee91"/><stop offset=".14" stop-color="#d4dd80"/><stop offset=".16" stop-color="#ebca70"/><stop offset=".21" stop-color="#ff9850"/><stop offset=".26" stop-color="#ff733b"/><stop offset=".31" stop-color="#ff592d"/><stop offset=".36" stop-color="#ff4724"/><stop offset=".42" stop-color="#ff3b1e"/><stop offset=".47" stop-color="#ff351b"/><stop offset=".65" stop-color="#ff2c16"/><stop offset=".82" stop-color="#ff2914"/><stop offset="1" stop-color="#ff2914"/></linearGradient><linearGradient id="r100"><stop offset="0" stop-color="#5c38fd"/><stop offset=".02" stop-color="#1996f3"/><stop offset=".04" stop-color="#1fd3e1"/><stop offset=".06" stop-color="#50f4cc"/><stop offset=".08" stop-color="#7affb7"/><stop offset=".1" stop-color="#9efaa2"/><stop offset=".12" stop-color="#bced8f"/><stop offset=".14" stop-color="#d6db7e"/><stop offset=".16" stop-color="#ecc86f"/><stop offset=".21" stop-color="#ff964f"/><stop offset=".26" stop-color="#ff6d38"/><stop offset=".31" stop-color="#ff532a"/><stop offset=".36" stop-color="#ff4422"/><stop offset=".42" stop-color="#ff381c"/><stop offset=".47" stop-color="#ff2f18"/><stop offset=".65" stop-color="#ff2613"/><stop offset=".82" stop-color="#ff2613"/><stop offset="1" stop-color="#ff2613"/></linearGradient><linearGradient id="r101"><stop offset="0" stop-color="#5c38fd"/><stop offset=".02" stop-color="#1996f3"/><stop offset=".04" stop-color="#1fd3e1"/><stop offset=".06" stop-color="#50f4cc"/><stop offset=".08" stop-color="#7affb7"/><stop offset=".1" stop-color="#9efaa2"/><stop offset=".12" stop-color="#beec8e"/><stop offset=".14" stop-color="#d9da7d"/><stop offset=".16" stop-color="#eec66d"/><stop offset=".21" stop-color="#ff934d"/><stop offset=".26" stop-color="#ff6b37"/><stop offset=".31" stop-color="#ff5029"/><stop offset=".36" stop-color="#ff3e1f"/><stop offset=".42" stop-color="#ff3219"/><stop offset=".47" stop-color="#ff2c16"/><stop offset=".65" stop-color="#ff2211"/><stop offset=".82" stop-color="#ff1f10"/><stop offset="1" stop-color="#ff1f10"/></linearGradient><linearGradient id="r102"><stop offset="0" stop-color="#5c38fd"/><stop offset=".02" stop-color="#1996f3"/><stop offset=".04" stop-color="#20d5e1"/><stop offset=".06" stop-color="#50f4cc"/><stop offset=".08" stop-color="#7dffb6"/><stop offset=".1" stop-color="#a0faa1"/><stop offset=".12" stop-color="#beec8e"/><stop offset=".14" stop-color="#dbd87b"/><stop offset=".16" stop-color="#f0c46c"/><stop offset=".21" stop-color="#ff8e4a"/><stop offset=".26" stop-color="#ff6835"/><stop offset=".31" stop-color="#ff4d27"/><stop offset=".36" stop-color="#ff3b1e"/><stop offset=".42" stop-color="#ff2f18"/><stop offset=".47" stop-color="#ff2914"/><stop offset=".65" stop-color="#ff1c0e"/><stop offset=".82" stop-color="#ff1c0e"/><stop offset="1" stop-color="#ff1c0e"/></linearGradient><linearGradient id="r103"><stop offset="0" stop-color="#5c38fd"/><stop offset=".02" stop-color="#1996f3"/><stop offset=".04" stop-color="#20d5e1"/><stop offset=".06" stop-color="#52f5cb"/><stop offset=".08" stop-color="#7dffb6"/><stop offset=".1" stop-color="#a0faa1"/><stop offset=".12" stop-color="#c0eb8d"/><stop offset=".14" stop-color="#dbd87b"/><stop offset=".16" stop-color="#f2c26b"/><stop offset=".21" stop-color="#ff8c49"/><stop offset=".26" stop-color="#ff6533"/><stop offset=".31" stop-color="#ff4a26"/><stop offset=".36" stop-color="#ff381c"/><stop offset=".42" stop-color="#ff2c16"/><stop offset=".47" stop-color="#ff2211"/><stop offset=".65" stop-color="#ff190d"/><stop offset=".82" stop-color="#ff160b"/><stop offset="1" stop-color="#ff160b"/></linearGradient><linearGradient id="r104"><stop offset="0" stop-color="#5c38fd"/><stop offset=".02" stop-color="#1996f3"/><stop offset=".04" stop-color="#20d5e1"/><stop offset=".06" stop-color="#52f5cb"/><stop offset=".08" stop-color="#7dffb6"/><stop offset=".1" stop-color="#a2f9a0"/><stop offset=".12" stop-color="#c2ea8c"/><stop offset=".14" stop-color="#dcd67a"/><stop offset=".16" stop-color="#f2c26b"/><stop offset=".21" stop-color="#ff8c49"/><stop offset=".26" stop-color="#ff6232"/><stop offset=".31" stop-color="#ff4724"/><stop offset=".36" stop-color="#ff351b"/><stop offset=".42" stop-color="#ff2914"/><stop offset=".47" stop-color="#ff1f10"/><stop offset=".65" stop-color="#ff160b"/><stop offset=".82" stop-color="#ff1309"/><stop offset="1" stop-color="#ff1309"/></linearGradient><linearGradient id="r105"><stop offset="0" stop-color="#5c38fd"/><stop offset=".02" stop-color="#1996f3"/><stop offset=".04" stop-color="#20d5e1"/><stop offset=".06" stop-color="#52f5cb"/><stop offset=".08" stop-color="#7effb5"/><stop offset=".1" stop-color="#a2f9a0"/><stop offset=".12" stop-color="#c2ea8c"/><stop offset=".14" stop-color="#dcd67a"/><stop offset=".16" stop-color="#f4c069"/><stop offset=".21" stop-color="#ff8947"/><stop offset=".26" stop-color="#ff5f30"/><stop offset=".31" stop-color="#ff4422"/><stop offset=".36" stop-color="#ff3219"/><stop offset=".42" stop-color="#ff2613"/><stop offset=".47" stop-color="#ff1c0e"/><stop offset=".65" stop-color="#ff1309"/><stop offset=".82" stop-color="#ff1309"/><stop offset="1" stop-color="#ff1008"/></linearGradient><linearGradient id="r106"><stop offset="0" stop-color="#5c38fd"/><stop offset=".02" stop-color="#1996f3"/><stop offset=".04" stop-color="#20d5e1"/><stop offset=".06" stop-color="#52f5cb"/><stop offset=".08" stop-color="#7dffb6"/><stop offset=".1" stop-color="#a2f9a0"/><stop offset=".12" stop-color="#c2ea8c"/><stop offset=".14" stop-color="#ded579"/><stop offset=".16" stop-color="#f4c069"/><stop offset=".21" stop-color="#ff8947"/><stop offset=".26" stop-color="#ff5f30"/><stop offset=".31" stop-color="#ff4121"/><stop offset=".36" stop-color="#ff2f18"/><stop offset=".42" stop-color="#ff2211"/><stop offset=".47" stop-color="#ff1c0e"/><stop offset=".65" stop-color="#ff1309"/><stop offset=".82" stop-color="#ff1008"/><stop offset="1" stop-color="#ff1008"/></linearGradient><linearGradient id="r107"><stop offset="0" stop-color="#5c38fd"/><stop offset=".02" stop-color="#1996f3"/><stop offset=".04" stop-color="#1fd3e1"/><stop offset=".06" stop-color="#52f5cb"/><stop offset=".08" stop-color="#7dffb6"/><stop offset=".1" stop-color="#a2f9a0"/><stop offset=".12" stop-color="#c2ea8c"/><stop offset=".14" stop-color="#ded579"/><stop offset=".16" stop-color="#f4c069"/><stop offset=".21" stop-color="#ff8947"/><stop offset=".26" stop-color="#ff5f30"/><stop offset=".31" stop-color="#ff4121"/><stop offset=".36" stop-color="#ff2f18"/><stop offset=".42" stop-color="#ff2211"/><stop offset=".47" stop-color="#ff1c0e"/><stop offset=".65" stop-color="#ff1008"/><stop offset=".82" stop-color="#ff1008"/><stop offset="1" stop-color="#ff0d06"/></linearGradient><linearGradient id="r108"><stop offset="0" stop-color="#5c38fd"/><stop offset=".02" stop-color="#1c93f3"/><stop offset=".04" stop-color="#1fd3e1"/><stop offset=".06" stop-color="#50f4cc"/><stop offset=".08" stop-color="#7dffb6"/><stop offset=".1" stop-color="#a0faa1"/><stop offset=".12" stop-color="#c0eb8d"/><stop offset=".14" stop-color="#dcd67a"/><stop offset=".16" stop-color="#f4c069"/><stop offset=".21" stop-color="#ff8947"/><stop offset=".26" stop-color="#ff5f30"/><stop offset=".31" stop-color="#ff4121"/><stop offset=".36" stop-color="#ff2f18"/><stop offset=".42" stop-color="#ff2211"/><stop offset=".47" stop-color="#ff1c0e"/><stop offset=".65" stop-color="#ff1008"/><stop offset=".82" stop-color="#ff1008"/><stop offset="1" stop-color="#ff0d06"/></linearGradient><linearGradient id="r109"><stop offset="0" stop-color="#5c38fd"/><stop offset=".02" stop-color="#1c93f3"/><stop offset=".04" stop-color="#1dd1e2"/><stop offset=".06" stop-color="#4ef3cd"/><stop offset=".08" stop-color="#7affb7"/><stop offset=".1" stop-color="#a0faa1"/><stop offset=".12" stop-color="#c0eb8d"/><stop offset=".14" stop-color="#dcd67a"/><stop offset=".16" stop-color="#f2c26b"/><stop offset=".21" stop-color="#ff8947"/><stop offset=".26" stop-color="#ff5f30"/><stop offset=".31" stop-color="#ff4422"/><stop offset=".36" stop-color="#ff2f18"/><stop offset=".42" stop-color="#ff2613"/><stop offset=".47" stop-color="#ff1c0e"/><stop offset=".65" stop-color="#ff1309"/><stop offset=".82" stop-color="#ff1008"/><stop offset="1" stop-color="#ff1008"/></linearGradient><linearGradient id="r110"><stop offset="0" stop-color="#5e35fe"/><stop offset=".02" stop-color="#1e91f3"/><stop offset=".04" stop-color="#1dd1e2"/><stop offset=".06" stop-color="#4df3ce"/><stop offset=".08" stop-color="#78ffb8"/><stop offset=".1" stop-color="#9efaa2"/><stop offset=".12" stop-color="#beec8e"/><stop offset=".14" stop-color="#dbd87b"/><stop offset=".16" stop-color="#f0c46c"/><stop offset=".21" stop-color="#ff8c49"/><stop offset=".26" stop-color="#ff6232"/><stop offset=".31" stop-color="#ff4422"/><stop offset=".36" stop-color="#ff3219"/><stop offset=".42" stop-color="#ff2613"/><stop offset=".47" stop-color="#ff1f10"/><stop offset=".65" stop-color="#ff160b"/><stop offset=".82" stop-color="#ff1309"/><stop offset="1" stop-color="#ff1309"/></linearGradient><linearGradient id="r111"><stop offset="0" stop-color="#5e35fe"/><stop offset=".02" stop-color="#208ef4"/><stop offset=".04" stop-color="#18cde4"/><stop offset=".06" stop-color="#4af2cf"/><stop offset=".08" stop-color="#76ffb9"/><stop offset=".1" stop-color="#9bfba5"/><stop offset=".12" stop-color="#bbee91"/><stop offset=".14" stop-color="#d6db7e"/><stop offset=".16" stop-color="#eec66d"/><stop offset=".21" stop-color="#ff914c"/><stop offset=".26" stop-color="#ff6533"/><stop offset=".31" stop-color="#ff4a26"/><stop offset=".36" stop-color="#ff381c"/><stop offset=".42" stop-color="#ff2c16"/><stop offset=".47" stop-color="#ff2211"/><stop offset=".65" stop-color="#ff190d"/><stop offset=".82" stop-color="#ff160b"/><stop offset="1" stop-color="#ff160b"/></linearGradient><linearGradient id="r112"><stop offset="0" stop-color="#6032fe"/><stop offset=".02" stop-color="#218cf4"/><stop offset=".04" stop-color="#17cbe4"/><stop offset=".06" stop-color="#48f1d0"/><stop offset=".08" stop-color="#72febb"/><stop offset=".1" stop-color="#99fca6"/><stop offset=".12" stop-color="#b9ef92"/><stop offset=".14" stop-color="#d4dd80"/><stop offset=".16" stop-color="#ebca70"/><stop offset=".21" stop-color="#ff934d"/><stop offset=".26" stop-color="#ff6b37"/><stop offset=".31" stop-color="#ff4d27"/><stop offset=".36" stop-color="#ff3b1e"/><stop offset=".42" stop-color="#ff2f18"/><stop offset=".47" stop-color="#ff2914"/><stop offset=".65" stop-color="#ff1c0e"/><stop offset=".82" stop-color="#ff1c0e"/><stop offset="1" stop-color="#ff1c0e"/></linearGradient><linearGradient id="r113"><stop offset="0" stop-color="#6032fe"/><stop offset=".02" stop-color="#2489f5"/><stop offset=".04" stop-color="#14cae5"/><stop offset=".06" stop-color="#44eed2"/><stop offset=".08" stop-color="#70febc"/><stop offset=".1" stop-color="#94fda8"/><stop offset=".12" stop-color="#b4f295"/><stop offset=".14" stop-color="#d0e082"/><stop offset=".16" stop-color="#e6cd73"/><stop offset=".21" stop-color="#ff9850"/><stop offset=".26" stop-color="#ff703a"/><stop offset=".31" stop-color="#ff532a"/><stop offset=".36" stop-color="#ff4121"/><stop offset=".42" stop-color="#ff351b"/><stop offset=".47" stop-color="#ff2f18"/><stop offset=".65" stop-color="#ff2211"/><stop offset=".82" stop-color="#ff2211"/><stop offset="1" stop-color="#ff2211"/></linearGradient><linearGradient id="r114"><stop offset="0" stop-color="#622ffe"/><stop offset=".02" stop-color="#2686f5"/><stop offset=".04" stop-color="#10c6e6"/><stop offset=".06" stop-color="#40ecd4"/><stop offset=".08" stop-color="#6dfdbf"/><stop offset=".1" stop-color="#90feab"/><stop offset=".12" stop-color="#b0f397"/><stop offset=".14" stop-color="#cce385"/><stop offset=".16" stop-color="#e2d176"/><stop offset=".21" stop-color="#ff9d53"/><stop offset=".26" stop-color="#ff763d"/><stop offset=".31" stop-color="#ff592d"/><stop offset=".36" stop-color="#ff4724"/><stop offset=".42" stop-color="#ff3b1e"/><stop offset=".47" stop-color="#ff351b"/><stop offset=".65" stop-color="#ff2914"/><stop offset=".82" stop-color="#ff2914"/><stop offset="1" stop-color="#ff2914"/></linearGradient><linearGradient id="r115"><stop offset="0" stop-color="#642cfe"/><stop offset=".02" stop-color="#2981f6"/><stop offset=".04" stop-color="#0dc2e8"/><stop offset=".06" stop-color="#3dead5"/><stop offset=".08" stop-color="#66fcc2"/><stop offset=".1" stop-color="#8cfead"/><stop offset=".12" stop-color="#acf59a"/><stop offset=".14" stop-color="#c6e789"/><stop offset=".16" stop-color="#ded579"/><stop offset=".21" stop-color="#ffa256"/><stop offset=".26" stop-color="#ff7b40"/><stop offset=".31" stop-color="#ff5f30"/><stop offset=".36" stop-color="#ff4d27"/><stop offset=".42" stop-color="#ff4121"/><stop offset=".47" stop-color="#ff3b1e"/><stop offset=".65" stop-color="#ff3219"/><stop offset=".82" stop-color="#ff2f18"/><stop offset="1" stop-color="#ff2f18"/></linearGradient><linearGradient id="r116"><stop offset="0" stop-color="#642cfe"/><stop offset=".02" stop-color="#2c7ef7"/><stop offset=".04" stop-color="#08bee9"/><stop offset=".06" stop-color="#38e7d7"/><stop offset=".08" stop-color="#62fbc4"/><stop offset=".1" stop-color="#86ffb0"/><stop offset=".12" stop-color="#a6f89d"/><stop offset=".14" stop-color="#c2ea8c"/><stop offset=".16" stop-color="#dbd87b"/><stop offset=".21" stop-color="#ffa95b"/><stop offset=".26" stop-color="#ff8143"/><stop offset=".31" stop-color="#ff6835"/><stop offset=".36" stop-color="#ff562c"/><stop offset=".42" stop-color="#ff4a26"/><stop offset=".47" stop-color="#ff4121"/><stop offset=".65" stop-color="#ff381c"/><stop offset=".82" stop-color="#ff381c"/><stop offset="1" stop-color="#ff381c"/></linearGradient><linearGradient id="r117"><stop offset="0" stop-color="#6629fe"/><stop offset=".02" stop-color="#3079f7"/><stop offset=".04" stop-color="#04b9ea"/><stop offset=".06" stop-color="#34e4d9"/><stop offset=".08" stop-color="#5df9c7"/><stop offset=".1" stop-color="#82ffb3"/><stop offset=".12" stop-color="#a0faa1"/><stop offset=".14" stop-color="#bced8f"/><stop offset=".16" stop-color="#d4dd80"/><stop offset=".21" stop-color="#ffae5e"/><stop offset=".26" stop-color="#ff8947"/><stop offset=".31" stop-color="#ff6d38"/><stop offset=".36" stop-color="#ff5c2f"/><stop offset=".42" stop-color="#ff5029"/><stop offset=".47" stop-color="#ff4a26"/><stop offset=".65" stop-color="#ff4121"/><stop offset=".82" stop-color="#ff4121"/><stop offset="1" stop-color="#ff4121"/></linearGradient><linearGradient id="r118"><stop offset="0" stop-color="#6826fe"/><stop offset=".02" stop-color="#3473f8"/><stop offset=".04" stop-color="#00b5eb"/><stop offset=".06" stop-color="#2fe0db"/><stop offset=".08" stop-color="#56f7ca"/><stop offset=".1" stop-color="#7affb7"/><stop offset=".12" stop-color="#9bfba5"/><stop offset=".14" stop-color="#b6f193"/><stop offset=".16" stop-color="#cee184"/><stop offset=".21" stop-color="#fcb763"/><stop offset=".26" stop-color="#ff914c"/><stop offset=".31" stop-color="#ff793e"/><stop offset=".36" stop-color="#ff6835"/><stop offset=".42" stop-color="#ff5c2f"/><stop offset=".47" stop-color="#ff562c"/><stop offset=".65" stop-color="#ff4d27"/><stop offset=".82" stop-color="#ff4a26"/><stop offset="1" stop-color="#ff4a26"/></linearGradient><linearGradient id="r119"><stop offset="0" stop-color="#6a22fe"/><stop offset=".02" stop-color="#386df9"/><stop offset=".04" stop-color="#08acee"/><stop offset=".06" stop-color="#27dade"/><stop offset=".08" stop-color="#4ef3cd"/><stop offset=".1" stop-color="#72febb"/><stop offset=".12" stop-color="#92fda9"/><stop offset=".14" stop-color="#acf59a"/><stop offset=".16" stop-color="#c4e88a"/><stop offset=".21" stop-color="#f4c069"/><stop offset=".26" stop-color="#ff9d53"/><stop offset=".31" stop-color="#ff8444"/><stop offset=".36" stop-color="#ff733b"/><stop offset=".42" stop-color="#ff6b37"/><stop offset=".47" stop-color="#ff6533"/><stop offset=".65" stop-color="#ff5c2f"/><stop offset=".82" stop-color="#ff592d"/><stop offset="1" stop-color="#ff592d"/></linearGradient><linearGradient id="r120"><stop offset="0" stop-color="#6e1cff"/><stop offset=".02" stop-color="#3e65fa"/><stop offset=".04" stop-color="#0ea5ef"/><stop offset=".06" stop-color="#1fd3e1"/><stop offset=".08" stop-color="#44eed2"/><stop offset=".1" stop-color="#68fcc1"/><stop offset=".12" stop-color="#86ffb0"/><stop offset=".14" stop-color="#a2f9a0"/><stop offset=".16" stop-color="#bbee91"/><stop offset=".21" stop-color="#e8cb72"/><stop offset=".26" stop-color="#ffac5c"/><stop offset=".31" stop-color="#ff934d"/><stop offset=".36" stop-color="#ff8444"/><stop offset=".42" stop-color="#ff7b40"/><stop offset=".47" stop-color="#ff763d"/><stop offset=".65" stop-color="#ff6d38"/><stop offset=".82" stop-color="#ff6d38"/><stop offset="1" stop-color="#ff6d38"/></linearGradient><linearGradient id="r121"><stop offset="0" stop-color="#7019ff"/><stop offset=".02" stop-color="#445cfb"/><stop offset=".04" stop-color="#169bf2"/><stop offset=".06" stop-color="#14cae5"/><stop offset=".08" stop-color="#3ae8d6"/><stop offset=".1" stop-color="#5df9c7"/><stop offset=".12" stop-color="#7affb7"/><stop offset=".14" stop-color="#96fca7"/><stop offset=".16" stop-color="#acf59a"/><stop offset=".21" stop-color="#dcd67a"/><stop offset=".26" stop-color="#fbb965"/><stop offset=".31" stop-color="#ffa558"/><stop offset=".36" stop-color="#ff964f"/><stop offset=".42" stop-color="#ff8e4a"/><stop offset=".47" stop-color="#ff8947"/><stop offset=".65" stop-color="#ff8444"/><stop offset=".82" stop-color="#ff8143"/><stop offset="1" stop-color="#ff8143"/></linearGradient><linearGradient id="r122"><stop offset="0" stop-color="#7216ff"/><stop offset=".02" stop-color="#4a53fb"/><stop offset=".04" stop-color="#208ef4"/><stop offset=".06" stop-color="#08bee9"/><stop offset=".08" stop-color="#2fe0db"/><stop offset=".1" stop-color="#50f4cc"/><stop offset=".12" stop-color="#6efebe"/><stop offset=".14" stop-color="#88ffaf"/><stop offset=".16" stop-color="#9efaa2"/><stop offset=".21" stop-color="#cce385"/><stop offset=".26" stop-color="#ebca70"/><stop offset=".31" stop-color="#fcb763"/><stop offset=".36" stop-color="#ffa95b"/><stop offset=".42" stop-color="#ffa256"/><stop offset=".47" stop-color="#ff9d53"/><stop offset=".65" stop-color="#ff9850"/><stop offset=".82" stop-color="#ff9850"/><stop offset="1" stop-color="#ff9850"/></linearGradient><linearGradient id="r123"><stop offset="0" stop-color="#7610ff"/><stop offset=".02" stop-color="#504afc"/><stop offset=".04" stop-color="#2884f6"/><stop offset=".06" stop-color="#01b3ec"/><stop offset=".08" stop-color="#22d6e0"/><stop offset=".1" stop-color="#42edd3"/><stop offset=".12" stop-color="#60fac5"/><stop offset=".14" stop-color="#7affb7"/><stop offset=".16" stop-color="#90feab"/><stop offset=".21" stop-color="#beec8e"/><stop offset=".26" stop-color="#dbd87b"/><stop offset=".31" stop-color="#ecc86f"/><stop offset=".36" stop-color="#f9bb66"/><stop offset=".42" stop-color="#feb562"/><stop offset=".47" stop-color="#ffb360"/><stop offset=".65" stop-color="#ffae5e"/><stop offset=".82" stop-color="#ffae5e"/><stop offset="1" stop-color="#ffae5e"/></linearGradient><linearGradient id="r124"><stop offset="0" stop-color="#780dff"/><stop offset=".02" stop-color="#583efd"/><stop offset=".04" stop-color="#3176f8"/><stop offset=".06" stop-color="#0ea5ef"/><stop offset=".08" stop-color="#14cae5"/><stop offset=".1" stop-color="#34e4d9"/><stop offset=".12" stop-color="#50f4cc"/><stop offset=".14" stop-color="#6afdc0"/><stop offset=".16" stop-color="#80ffb4"/><stop offset=".21" stop-color="#acf59a"/><stop offset=".26" stop-color="#cbe486"/><stop offset=".31" stop-color="#dcd67a"/><stop offset=".36" stop-color="#e6cd73"/><stop offset=".42" stop-color="#ecc86f"/><stop offset=".47" stop-color="#eec66d"/><stop offset=".65" stop-color="#f2c26b"/><stop offset=".82" stop-color="#f2c26b"/><stop offset="1" stop-color="#f2c26b"/></linearGradient><linearGradient id="r125"><stop offset="0" stop-color="#7a09ff"/><stop offset=".02" stop-color="#5e35fe"/><stop offset=".04" stop-color="#3c68f9"/><stop offset=".06" stop-color="#1996f3"/><stop offset=".08" stop-color="#07bbea"/><stop offset=".1" stop-color="#24d8df"/><stop offset=".12" stop-color="#40ecd4"/><stop offset=".14" stop-color="#5af8c8"/><stop offset=".16" stop-color="#6efebe"/><stop offset=".21" stop-color="#9cfba4"/><stop offset=".26" stop-color="#b9ef92"/><stop offset=".31" stop-color="#cbe486"/><stop offset=".36" stop-color="#d2de81"/><stop offset=".42" stop-color="#d9da7d"/><stop offset=".47" stop-color="#dbd87b"/><stop offset=".65" stop-color="#ded579"/><stop offset=".82" stop-color="#ded579"/><stop offset="1" stop-color="#ded579"/></linearGradient><linearGradient id="r126"><stop offset="0" stop-color="#7e03ff"/><stop offset=".02" stop-color="#642cfe"/><stop offset=".04" stop-color="#4659fb"/><stop offset=".06" stop-color="#2884f6"/><stop offset=".08" stop-color="#09a9ee"/><stop offset=".1" stop-color="#14cae5"/><stop offset=".12" stop-color="#2fe0db"/><stop offset=".14" stop-color="#46efd1"/><stop offset=".16" stop-color="#5df9c7"/><stop offset=".21" stop-color="#88ffaf"/><stop offset=".26" stop-color="#a4f89f"/><stop offset=".31" stop-color="#b4f295"/><stop offset=".36" stop-color="#beec8e"/><stop offset=".42" stop-color="#c2ea8c"/><stop offset=".47" stop-color="#c4e88a"/><stop offset=".65" stop-color="#c6e789"/><stop offset=".82" stop-color="#c6e789"/><stop offset="1" stop-color="#c6e789"/></linearGradient><linearGradient id="r127"><stop offset="0" stop-color="#8000ff"/><stop offset=".02" stop-color="#6c1fff"/><stop offset=".04" stop-color="#5247fc"/><stop offset=".06" stop-color="#3670f8"/><stop offset=".08" stop-color="#1996f3"/><stop offset=".1" stop-color="#02b7eb"/><stop offset=".12" stop-color="#1acfe3"/><stop offset=".14" stop-color="#32e3da"/><stop offset=".16" stop-color="#46efd1"/><stop offset=".21" stop-color="#72febb"/><stop offset=".26" stop-color="#8cfead"/><stop offset=".31" stop-color="#9cfba4"/><stop offset=".36" stop-color="#a4f89f"/><stop offset=".42" stop-color="#a8f79c"/><stop offset=".47" stop-color="#abf69b"/><stop offset=".65" stop-color="#acf59a"/><stop offset=".82" stop-color="#acf59a"/><stop offset="1" stop-color="#acf59a"/></linearGradient><linearGradient id="r128"><stop offset="0" stop-color="#8000ff"/><stop offset=".02" stop-color="#7216ff"/><stop offset=".04" stop-color="#5c38fd"/><stop offset=".06" stop-color="#445cfb"/><stop offset=".08" stop-color="#2c7ef7"/><stop offset=".1" stop-color="#11a0f1"/><stop offset=".12" stop-color="#07bbea"/><stop offset=".14" stop-color="#1dd1e2"/><stop offset=".16" stop-color="#2fe0db"/><stop offset=".21" stop-color="#58f8c9"/><stop offset=".26" stop-color="#72febb"/><stop offset=".31" stop-color="#80ffb4"/><stop offset=".36" stop-color="#88ffaf"/><stop offset=".42" stop-color="#8cfead"/><stop offset=".47" stop-color="#8efeac"/><stop offset=".65" stop-color="#8efeac"/><stop offset=".82" stop-color="#8efeac"/><stop offset="1" stop-color="#8efeac"/></linearGradient><linearGradient id="r129"><stop offset="0" stop-color="#8000ff"/><stop offset=".02" stop-color="#780dff"/><stop offset=".04" stop-color="#6629fe"/><stop offset=".06" stop-color="#5247fc"/><stop offset=".08" stop-color="#3e65fa"/><stop offset=".1" stop-color="#2884f6"/><stop offset=".12" stop-color="#11a0f1"/><stop offset=".14" stop-color="#02b7eb"/><stop offset=".16" stop-color="#14cae5"/><stop offset=".21" stop-color="#3ae8d6"/><stop offset=".26" stop-color="#54f6cb"/><stop offset=".31" stop-color="#60fac5"/><stop offset=".36" stop-color="#68fcc1"/><stop offset=".42" stop-color="#6afdc0"/><stop offset=".47" stop-color="#6dfdbf"/><stop offset=".65" stop-color="#6dfdbf"/><stop offset=".82" stop-color="#6dfdbf"/><stop offset="1" stop-color="#6dfdbf"/></linearGradient><linearGradient id="r130"><stop offset="0" stop-color="#8000ff"/><stop offset=".02" stop-color="#7c06ff"/><stop offset=".04" stop-color="#7019ff"/><stop offset=".06" stop-color="#6032fe"/><stop offset=".08" stop-color="#504afc"/><stop offset=".1" stop-color="#3e65fa"/><stop offset=".12" stop-color="#2c7ef7"/><stop offset=".14" stop-color="#1996f3"/><stop offset=".16" stop-color="#09a9ee"/><stop offset=".21" stop-color="#18cde4"/><stop offset=".26" stop-color="#2fe0db"/><stop offset=".31" stop-color="#3ae8d6"/><stop offset=".36" stop-color="#40ecd4"/><stop offset=".42" stop-color="#42edd3"/><stop offset=".47" stop-color="#42edd3"/><stop offset=".65" stop-color="#44eed2"/><stop offset=".82" stop-color="#44eed2"/><stop offset="1" stop-color="#44eed2"/></linearGradient><linearGradient id="r131"><stop offset="0" stop-color="#8000ff"/><stop offset=".02" stop-color="#8000ff"/><stop offset=".04" stop-color="#7a09ff"/><stop offset=".06" stop-color="#7019ff"/><stop offset=".08" stop-color="#642cfe"/><stop offset=".1" stop-color="#5641fd"/><stop offset=".12" stop-color="#4856fb"/><stop offset=".14" stop-color="#3c68f9"/><stop offset=".16" stop-color="#3079f7"/><stop offset=".21" stop-color="#149df1"/><stop offset=".26" stop-color="#01b3ec"/><stop offset=".31" stop-color="#07bbea"/><stop offset=".36" stop-color="#0ac0e8"/><stop offset=".42" stop-color="#0dc2e8"/><stop offset=".47" stop-color="#0dc2e8"/><stop offset=".65" stop-color="#0dc2e8"/><stop offset=".82" stop-color="#0dc2e8"/><stop offset="1" stop-color="#0dc2e8"/></linearGradient><linearGradient id="r132"><stop offset="0" stop-color="#8000ff"/><stop offset=".02" stop-color="#8000ff"/><stop offset=".04" stop-color="#8000ff"/><stop offset=".06" stop-color="#7a09ff"/><stop offset=".08" stop-color="#7413ff"/><stop offset=".1" stop-color="#6c1fff"/><stop offset=".12" stop-color="#642cfe"/><stop offset=".14" stop-color="#5a3bfd"/><stop offset=".16" stop-color="#5247fc"/><stop offset=".21" stop-color="#4062fa"/><stop offset=".26" stop-color="#3473f8"/><stop offset=".31" stop-color="#2e7bf7"/><stop offset=".36" stop-color="#2981f6"/><stop offset=".42" stop-color="#2981f6"/><stop offset=".47" stop-color="#2981f6"/><stop offset=".65" stop-color="#2981f6"/><stop offset=".82" stop-color="#2981f6"/><stop offset="1" stop-color="#2981f6"/></linearGradient><linearGradient id="r133"><stop offset="0" stop-color="#8000ff"/><stop offset=".02" stop-color="#8000ff"/><stop offset=".04" stop-color="#8000ff"/><stop offset=".06" stop-color="#8000ff"/><stop offset=".08" stop-color="#8000ff"/><stop offset=".1" stop-color="#7c06ff"/><stop offset=".12" stop-color="#780dff"/><stop offset=".14" stop-color="#7413ff"/><stop offset=".16" stop-color="#7019ff"/><stop offset=".21" stop-color="#6826fe"/><stop offset=".26" stop-color="#622ffe"/><stop offset=".31" stop-color="#5e35fe"/><stop offset=".36" stop-color="#5e35fe"/><stop offset=".42" stop-color="#5c38fd"/><stop offset=".47" stop-color="#5c38fd"/><stop offset=".65" stop-color="#5c38fd"/><stop offset=".82" stop-color="#5c38fd"/><stop offset="1" stop-color="#5c38fd"/></linearGradient><linearGradient id="cb" x1="0" y1="0" x2="0" y2="1"><stop offset="0" stop-color="#ff0000"/><stop offset="0.06" stop-color="#ff2f18"/><stop offset="0.12" stop-color="#ff5f30"/><stop offset="0.19" stop-color="#ff8c49"/><stop offset="0.25" stop-color="#ffb360"/><stop offset="0.31" stop-color="#e0d377"/><stop offset="0.38" stop-color="#c0eb8d"/><stop offset="0.44" stop-color="#a0faa1"/><stop offset="0.5" stop-color="#80ffb4"/><stop offset="0.56" stop-color="#60fac5"/><stop offset="0.62" stop-color="#40ecd4"/><stop offset="0.69" stop-color="#20d5e1"/><stop offset="0.75" stop-color="#00b5eb"/><stop offset="0.81" stop-color="#208ef4"/><stop offset="0.88" stop-color="#4062fa"/><stop offset="0.94" stop-color="#6032fe"/><stop offset="1" stop-color="#8000ff"/></linearGradient>
<marker id="ah" viewBox="0 0 10 10" refX="9" refY="5" markerWidth="5" markerHeight="5" orient="auto-start-reverse"><path d="M0 0L10 5L0 10z" fill="#000"/></marker>
<linearGradient id="pg" gradientUnits="userSpaceOnUse" x1="0" y1="102" x2="0" y2="153"><stop offset="0" stop-color="#b399e4"/><stop offset="0.45" stop-color="#d9caf5"/><stop offset="1" stop-color="#f6f2fd"/></linearGradient>
</defs>
<rect width="520" height="253" fill="#fff"/>
<g id="panelA">
<rect x="20.2" y="19.3" width="44.3" height="199.9" fill="#a6a6a6"/>
<rect x="64.5" y="19.3" width="128.4" height="199.9" fill="#ffe699"/>
<rect x="192.9" y="19.3" width="45.8" height="199.9" fill="#a6a6a6"/>
<text x="128.2" y="12.3" font-size="16" text-anchor="middle">(a)</text>
<!-- L dimension -->
<g stroke="#000" stroke-width="1" fill="none">
<path d="M0 19.5H18M0 219H18"/>
<path d="M8.9 21V111.5M8.9 133V217.5"/>
<path d="M20 221.5V235M64.5 221.5V235M192.9 221.5V235M238.5 221.5V235"/>
<path d="M21 227.4H35.5M47 227.4H63.5M66 227.4H119M139 227.4H191.5M194.5 227.4H207M222.5 227.4H237.5"/>
</g>
<g fill="#000">
<path d="M8.9 19.6L6.8 25.4H11z"/><path d="M8.9 218.9L6.8 213.1H11z"/>
<path d="M20.3 227.4L25 225.5V229.3z"/><path d="M64.2 227.4L59.5 225.5V229.3z"/>
<path d="M64.8 227.4L69.5 225.5V229.3z"/><path d="M192.6 227.4L187.9 225.5V229.3z"/>
<path d="M193.2 227.4L197.9 225.5V229.3z"/><path d="M238.2 227.4L233.5 225.5V229.3z"/>
</g>
<g font-style="italic" text-anchor="middle">
<text x="9" y="127.5" font-size="15.5">L</text>
<text x="41.6" y="233.6" font-size="16">d</text>
<text x="128" y="231.7" font-size="16">w</text>
<text x="215.3" y="233.6" font-size="16">d</text>
</g>
<!-- xy axes -->
<g stroke="#000" stroke-width="1.2" fill="none"><path d="M117.3 59V35H141.5"/></g>
<path d="M145.6 35L141 33V37z" fill="#000"/><path d="M117.3 63L115.3 58.4H119.3z" fill="#000"/>
<text x="149.3" y="38.8" font-size="15" font-style="italic">y</text>
<text x="105" y="68" font-size="15" font-style="italic">x</text>
<!-- corner labels -->
<g font-size="14" font-weight="bold" stroke="#000" stroke-width="0.35">
<text x="24.3" y="44.6">(2)</text><text x="216.5" y="43.8">(3)</text>
<text x="23.8" y="206.2">(1)</text><text x="216.2" y="207">(4)</text>
</g>
<!-- V_ISH -->
<text x="31.2" y="96.3" font-size="11.5"><tspan font-style="italic">V</tspan><tspan font-size="8.2" dy="2.4" font-weight="bold">ISH</tspan></text>
<text x="204.2" y="96.3" font-size="11.5"><tspan font-style="italic">V</tspan><tspan font-size="8.2" dy="2.4" font-weight="bold">ISH</tspan></text>
<!-- purple arrows -->
<g fill="url(#pg)" stroke="#7030a0" stroke-width="1.5" stroke-linejoin="miter">
<path d="M42.3 103L50.1 117H44.8V153H39.8V117H34.5z"/>
<path d="M216.5 103L224.3 117H219.0V153H214.0V117H208.7z"/>
</g>
<!-- legend -->
<g font-size="13.2">
<text x="92" y="98.2">Magnon spin <tspan font-style="italic" font-size="12.5">ℏ</tspan></text>
<text x="92" y="118.4">Magnon spin -<tspan font-style="italic" font-size="12.5">ℏ</tspan></text>
<text x="84.3" y="142.8">Electron spin</text><text x="157.3" y="142.8"><tspan font-style="italic" font-size="12.5">ℏ</tspan></text><text x="165.2" y="143.3" font-size="17">/</text><text x="173.8" y="142.8" font-size="15.5">2</text>
<text x="84.3" y="161">Electron spin</text><text x="155.6" y="161">-</text><text x="160" y="161"><tspan font-style="italic" font-size="12.5">ℏ</tspan></text><text x="168.5" y="161.5" font-size="17">/</text><text x="177.2" y="161" font-size="15.5">2</text>
</g>
<g fill="none" stroke-linejoin="miter" stroke-miterlimit="10">
<path d="M81.6 100.3V88.6M77.5 93.8L81.6 87.6L85.7 93.8" stroke="#ff0000" stroke-width="2.1"/>
<path d="M81.6 106.8V118.4M77.5 113.2L81.6 119.4L85.7 113.2" stroke="#4472c4" stroke-width="2.1"/>
<path d="M74.3 143.4V131M71.1 134.9L74.3 130.4L77.5 134.9" stroke="#70ad47" stroke-width="1.6"/>
<path d="M74.3 147.8V160.3M71.1 156.4L74.3 160.9L77.5 156.4" stroke="#ed7d31" stroke-width="1.6"/>
</g>
<!-- cluster 2 -->
<g id="c2">
<path d="M52.0 38.0L56.2 43.5H53.5V54.8H50.5V43.5H47.8z" fill="#80b55a"/>
<path d="M52.0 71.4L56.2 65.9H53.5V54.8H50.5V65.9H47.8z" fill="#ee8a48"/>
<path d="M80.8 67.5L86.8 56.5L82.6 58.5V50.6H79V58.5L74.8 56.5z" fill="#4472c4"/>
<g stroke="#000" stroke-width="1.1" fill="none">
<path d="M40.5 48.1H50C56 48.1 60 50 63.2 53.6"/>
<path d="M64.3 54.6C59 60 54 61.5 45.5 61.5"/>
<path d="M64.5 54.6 L65.1 55.1 L65.7 56.0 L66.3 56.4 L66.9 55.6 L67.5 53.5 L68.1 51.8 L68.7 51.4 L69.3 52.5 L69.9 54.6 L70.5 56.7 L71.1 57.8 L71.7 57.4 L72.3 55.7 L72.9 53.5 L73.5 51.8 L74.1 51.4 L74.7 52.5 L75.2 54.6 L75.8 56.7 L76.4 57.8 L77.0 57.4 L77.6 55.7 L78.2 53.5 L78.8 51.8 L79.4 51.4 L80.0 52.5 L80.6 54.6 L81.2 56.7 L81.8 57.8 L82.4 57.4 L83.0 55.7 L83.6 53.6 L84.2 52.8 L84.8 53.2 L85.4 54.1 L86.0 54.6"/>
</g>
<path d="M64.7 54.7L60.2 54.2L62.8 50.9z" fill="#000"/>
<path d="M42.3 61.5L47 59.5V63.5z" fill="#000"/>
<path d="M86 53.8L82 52.5L83.3 56.5z" fill="#000"/>
</g>
<!-- cluster 3 -->
<g id="c3">
<path d="M204.8 35.9L209.0 41.4H206.3V56.7H203.3V41.4H200.6z" fill="#80b55a"/>
<path d="M204.8 72.5L209.0 67.0H206.3V56.7H203.3V67.0H200.6z" fill="#ee8a48"/>
<path d="M176 68.5L182 57.5L177.8 59.5V51.8H174.2V59.5L170 57.5z" fill="#4472c4"/>
<g stroke="#000" stroke-width="1.1" fill="none">
<path d="M194.2 57.6C199 51 204 48.8 214 48.8"/>
<path d="M214.8 61.6H208C202 61.6 198.5 60.5 196 58.8"/>
<path d="M193.6 57.2 L193.0 57.7 L192.4 58.6 L191.8 59.0 L191.1 58.2 L190.5 56.1 L189.9 54.4 L189.3 54.0 L188.7 55.1 L188.1 57.2 L187.5 59.3 L186.8 60.4 L186.2 60.0 L185.6 58.3 L185.0 56.1 L184.4 54.4 L183.8 54.0 L183.2 55.1 L182.6 57.2 L181.9 59.3 L181.3 60.4 L180.7 60.0 L180.1 58.3 L179.5 56.1 L178.9 54.4 L178.3 54.0 L177.6 55.1 L177.0 57.2 L176.4 59.3 L175.8 60.4 L175.2 60.0 L174.6 58.3 L174.0 56.2 L173.3 55.4 L172.7 55.8 L172.1 56.7 L171.5 57.2"/>
</g>
<path d="M218 48.8L213 46.7V50.9z" fill="#000"/>
<path d="M194.3 57.7L198.7 57.1L197.3 60.9z" fill="#000"/>
<path d="M171.2 54.2L175.2 52.7L174.2 56.9z" fill="#000"/>
</g>
<!-- cluster 1 -->
<g id="c1">
<path d="M52.4 168.0L56.6 173.5H53.9V187.3H50.9V173.5H48.2z" fill="#80b55a"/>
<path d="M52.4 205.6L56.6 200.1H53.9V187.3H50.9V200.1H48.2z" fill="#ee8a48"/>
<path d="M77.8 175L83.6 185.5L79.6 183.6V191.7H76V183.6L72 185.5z" fill="#ff0000"/>
<g stroke="#000" stroke-width="1.1" fill="none">
<path d="M41.8 178.2H50C56 178.2 60 180 63.2 183.8"/>
<path d="M64.3 184.8C59 191 54 193.3 45 193.3"/>
<path d="M64.5 184.8 L65.1 185.3 L65.7 186.2 L66.3 186.6 L66.9 185.8 L67.5 183.7 L68.1 182.0 L68.7 181.6 L69.3 182.7 L69.9 184.8 L70.5 186.9 L71.1 188.0 L71.7 187.6 L72.3 185.9 L72.9 183.7 L73.5 182.0 L74.1 181.6 L74.7 182.7 L75.2 184.8 L75.8 186.9 L76.4 188.0 L77.0 187.6 L77.6 185.9 L78.2 183.7 L78.8 182.0 L79.4 181.6 L80.0 182.7 L80.6 184.8 L81.2 186.9 L81.8 188.0 L82.4 187.6 L83.0 185.9 L83.6 183.8 L84.2 183.0 L84.8 183.4 L85.4 184.3 L86.0 184.8"/>
</g>
<path d="M64.7 184.9L60.2 184.4L62.8 181.1z" fill="#000"/>
<path d="M41.6 193.3L46.3 191.3V195.3z" fill="#000"/>
<path d="M86.2 184L82.2 182.7L83.5 186.7z" fill="#000"/>
</g>
<!-- cluster 4 -->
<g id="c4">
<path d="M205.8 166.0L210.0 171.5H207.3V186.5H204.3V171.5H201.6z" fill="#80b55a"/>
<path d="M205.8 203.4L210.0 197.9H207.3V186.5H204.3V197.9H201.6z" fill="#ee8a48"/>
<path d="M178.8 175.4L184.6 185.9L180.6 184V191.7H177V184L173 185.9z" fill="#ff0000"/>
<g stroke="#000" stroke-width="1.1" fill="none">
<path d="M193.8 185.2C199 179 204 175.9 213.5 175.9"/>
<path d="M217.3 191.6H209C203 191.6 199.5 190.3 197 188.6"/>
<path d="M193.6 185.2 L193.0 185.7 L192.4 186.6 L191.8 187.0 L191.2 186.2 L190.6 184.1 L190.0 182.4 L189.4 182.0 L188.8 183.1 L188.2 185.2 L187.6 187.3 L187.0 188.4 L186.4 188.0 L185.8 186.3 L185.2 184.1 L184.6 182.4 L184.0 182.0 L183.4 183.1 L182.8 185.2 L182.2 187.3 L181.6 188.4 L181.0 188.0 L180.4 186.3 L179.8 184.1 L179.2 182.4 L178.6 182.0 L178.0 183.1 L177.4 185.2 L176.8 187.3 L176.2 188.4 L175.6 188.0 L175.0 186.3 L174.4 184.2 L173.8 183.4 L173.2 183.8 L172.6 184.7 L172.0 185.2"/>
</g>
<path d="M217.4 175.9L212.4 173.8V178z" fill="#000"/>
<path d="M194.6 186.6L199 186L197.6 189.8z" fill="#000"/>
<path d="M171.6 184L175.6 182.5L174.6 186.7z" fill="#000"/>
</g>
</g>

<g shape-rendering="crispEdges"><rect x="283.4" y="20" width="192.2" height="2.5" fill="url(#r0)"/><rect x="283.4" y="22" width="192.2" height="2.5" fill="url(#r1)"/><rect x="283.4" y="24" width="192.2" height="2.5" fill="url(#r2)"/><rect x="283.4" y="26" width="192.2" height="2.5" fill="url(#r3)"/><rect x="283.4" y="28" width="192.2" height="2.5" fill="url(#r4)"/><rect x="283.4" y="30" width="192.2" height="2.5" fill="url(#r5)"/><rect x="283.4" y="32" width="192.2" height="2.5" fill="url(#r6)"/><rect x="283.4" y="34" width="192.2" height="2.5" fill="url(#r7)"/><rect x="283.4" y="36" width="192.2" height="2.5" fill="url(#r8)"/><rect x="283.4" y="38" width="192.2" height="2.5" fill="url(#r9)"/><rect x="283.4" y="40" width="192.2" height="2.5" fill="url(#r10)"/><rect x="283.4" y="42" width="192.2" height="2.5" fill="url(#r11)"/><rect x="283.4" y="44" width="192.2" height="2.5" fill="url(#r12)"/><rect x="283.4" y="46" width="192.2" height="2.5" fill="url(#r13)"/><rect x="283.4" y="48" width="192.2" height="2.5" fill="url(#r14)"/><rect x="283.4" y="50" width="192.2" height="2.5" fill="url(#r15)"/><rect x="283.4" y="52" width="192.2" height="2.5" fill="url(#r16)"/><rect x="283.4" y="54" width="192.2" height="2.5" fill="url(#r17)"/><rect x="283.4" y="56" width="192.2" height="2.5" fill="url(#r18)"/><rect x="283.4" y="58" width="192.2" height="2.5" fill="url(#r19)"/><rect x="283.4" y="60" width="192.2" height="2.5" fill="url(#r20)"/><rect x="283.4" y="62" width="192.2" height="2.5" fill="url(#r21)"/><rect x="283.4" y="64" width="192.2" height="2.5" fill="url(#r22)"/><rect x="283.4" y="66" width="192.2" height="2.5" fill="url(#r23)"/><rect x="283.4" y="68" width="192.2" height="2.5" fill="url(#r24)"/><rect x="283.4" y="70" width="192.2" height="2.5" fill="url(#r25)"/><rect x="283.4" y="72" width="192.2" height="2.5" fill="url(#r26)"/><rect x="283.4" y="74" width="192.2" height="2.5" fill="url(#r27)"/><rect x="283.4" y="76" width="192.2" height="2.5" fill="url(#r28)"/><rect x="283.4" y="78" width="192.2" height="2.5" fill="url(#r29)"/><rect x="283.4" y="80" width="192.2" height="2.5" fill="url(#r30)"/><rect x="283.4" y="82" width="192.2" height="2.5" fill="url(#r31)"/><rect x="283.4" y="84" width="192.2" height="2.5" fill="url(#r32)"/><rect x="283.4" y="86" width="192.2" height="2.5" fill="url(#r33)"/><rect x="283.4" y="88" width="192.2" height="2.5" fill="url(#r34)"/><rect x="283.4" y="90" width="192.2" height="2.5" fill="url(#r35)"/><rect x="283.4" y="92" width="192.2" height="2.5" fill="url(#r36)"/><rect x="283.4" y="94" width="192.2" height="2.5" fill="url(#r37)"/><rect x="283.4" y="96" width="192.2" height="2.5" fill="url(#r38)"/><rect x="283.4" y="98" width="192.2" height="2.5" fill="url(#r39)"/><rect x="283.4" y="100" width="192.2" height="2.5" fill="url(#r40)"/><rect x="283.4" y="102" width="192.2" height="2.5" fill="url(#r41)"/><rect x="283.4" y="104" width="192.2" height="2.5" fill="url(#r42)"/><rect x="283.4" y="106" width="192.2" height="2.5" fill="url(#r43)"/><rect x="283.4" y="108" width="192.2" height="2.5" fill="url(#r44)"/><rect x="283.4" y="110" width="192.2" height="2.5" fill="url(#r45)"/><rect x="283.4" y="112" width="192.2" height="2.5" fill="url(#r46)"/><rect x="283.4" y="114" width="192.2" height="2.5" fill="url(#r47)"/><rect x="283.4" y="116" width="192.2" height="2.5" fill="url(#r48)"/><rect x="283.4" y="118" width="192.2" height="2.5" fill="url(#r49)"/><rect x="283.4" y="120" width="192.2" height="2.5" fill="url(#r50)"/><rect x="283.4" y="122" width="192.2" height="2.5" fill="url(#r51)"/><rect x="283.4" y="124" width="192.2" height="2.5" fill="url(#r52)"/><rect x="283.4" y="126" width="192.2" height="2.5" fill="url(#r53)"/><rect x="283.4" y="128" width="192.2" height="2.5" fill="url(#r54)"/><rect x="283.4" y="130" width="192.2" height="2.5" fill="url(#r55)"/><rect x="283.4" y="132" width="192.2" height="2.5" fill="url(#r56)"/><rect x="283.4" y="134" width="192.2" height="2.5" fill="url(#r57)"/><rect x="283.4" y="136" width="192.2" height="2.5" fill="url(#r58)"/><rect x="283.4" y="138" width="192.2" height="2.5" fill="url(#r59)"/><rect x="283.4" y="140" width="192.2" height="2.5" fill="url(#r60)"/><rect x="283.4" y="142" width="192.2" height="2.5" fill="url(#r61)"/><rect x="283.4" y="144" width="192.2" height="2.5" fill="url(#r62)"/><rect x="283.4" y="146" width="192.2" height="2.5" fill="url(#r63)"/><rect x="283.4" y="148" width="192.2" height="2.5" fill="url(#r64)"/><rect x="283.4" y="150" width="192.2" height="1.5" fill="url(#r65)"/><rect x="283.4" y="151" width="192.2" height="1.5" fill="url(#r66)"/><rect x="283.4" y="152" width="192.2" height="1.5" fill="url(#r67)"/><rect x="283.4" y="153" width="192.2" height="1.5" fill="url(#r68)"/><rect x="283.4" y="154" width="192.2" height="1.5" fill="url(#r69)"/><rect x="283.4" y="155" width="192.2" height="1.5" fill="url(#r70)"/><rect x="283.4" y="156" width="192.2" height="1.5" fill="url(#r71)"/><rect x="283.4" y="157" width="192.2" height="1.5" fill="url(#r72)"/><rect x="283.4" y="158" width="192.2" height="1.5" fill="url(#r73)"/><rect x="283.4" y="159" width="192.2" height="1.5" fill="url(#r74)"/><rect x="283.4" y="160" width="192.2" height="1.5" fill="url(#r75)"/><rect x="283.4" y="161" width="192.2" height="1.5" fill="url(#r76)"/><rect x="283.4" y="162" width="192.2" height="1.5" fill="url(#r77)"/><rect x="283.4" y="163" width="192.2" height="1.5" fill="url(#r78)"/><rect x="283.4" y="164" width="192.2" height="1.5" fill="url(#r79)"/><rect x="283.4" y="165" width="192.2" height="1.5" fill="url(#r80)"/><rect x="283.4" y="166" width="192.2" height="1.5" fill="url(#r81)"/><rect x="283.4" y="167" width="192.2" height="1.5" fill="url(#r82)"/><rect x="283.4" y="168" width="192.2" height="1.5" fill="url(#r83)"/><rect x="283.4" y="169" width="192.2" height="1.5" fill="url(#r84)"/><rect x="283.4" y="170" width="192.2" height="1.5" fill="url(#r85)"/><rect x="283.4" y="171" width="192.2" height="1.5" fill="url(#r86)"/><rect x="283.4" y="172" width="192.2" height="1.5" fill="url(#r87)"/><rect x="283.4" y="173" width="192.2" height="1.5" fill="url(#r88)"/><rect x="283.4" y="174" width="192.2" height="1.5" fill="url(#r89)"/><rect x="283.4" y="175" width="192.2" height="1.5" fill="url(#r90)"/><rect x="283.4" y="176" width="192.2" height="1.5" fill="url(#r91)"/><rect x="283.4" y="177" width="192.2" height="1.5" fill="url(#r92)"/><rect x="283.4" y="178" width="192.2" height="1.5" fill="url(#r93)"/><rect x="283.4" y="179" width="192.2" height="1.5" fill="url(#r94)"/><rect x="283.4" y="180" width="192.2" height="1.5" fill="url(#r95)"/><rect x="283.4" y="181" width="192.2" height="1.5" fill="url(#r96)"/><rect x="283.4" y="182" width="192.2" height="1.5" fill="url(#r97)"/><rect x="283.4" y="183" width="192.2" height="1.5" fill="url(#r98)"/><rect x="283.4" y="184" width="192.2" height="1.5" fill="url(#r99)"/><rect x="283.4" y="185" width="192.2" height="1.5" fill="url(#r100)"/><rect x="283.4" y="186" width="192.2" height="1.5" fill="url(#r101)"/><rect x="283.4" y="187" width="192.2" height="1.5" fill="url(#r102)"/><rect x="283.4" y="188" width="192.2" height="1.5" fill="url(#r103)"/><rect x="283.4" y="189" width="192.2" height="1.5" fill="url(#r104)"/><rect x="283.4" y="190" width="192.2" height="1.5" fill="url(#r105)"/><rect x="283.4" y="191" width="192.2" height="1.5" fill="url(#r106)"/><rect x="283.4" y="192" width="192.2" height="1.5" fill="url(#r107)"/><rect x="283.4" y="193" width="192.2" height="1.5" fill="url(#r108)"/><rect x="283.4" y="194" width="192.2" height="1.5" fill="url(#r109)"/><rect x="283.4" y="195" width="192.2" height="1.5" fill="url(#r110)"/><rect x="283.4" y="196" width="192.2" height="1.5" fill="url(#r111)"/><rect x="283.4" y="197" width="192.2" height="1.5" fill="url(#r112)"/><rect x="283.4" y="198" width="192.2" height="1.5" fill="url(#r113)"/><rect x="283.4" y="199" width="192.2" height="1.5" fill="url(#r114)"/><rect x="283.4" y="200" width="192.2" height="1.5" fill="url(#r115)"/><rect x="283.4" y="201" width="192.2" height="1.5" fill="url(#r116)"/><rect x="283.4" y="202" width="192.2" height="1.5" fill="url(#r117)"/><rect x="283.4" y="203" width="192.2" height="1.5" fill="url(#r118)"/><rect x="283.4" y="204" width="192.2" height="1.5" fill="url(#r119)"/><rect x="283.4" y="205" width="192.2" height="1.5" fill="url(#r120)"/><rect x="283.4" y="206" width="192.2" height="1.5" fill="url(#r121)"/><rect x="283.4" y="207" width="192.2" height="1.5" fill="url(#r122)"/><rect x="283.4" y="208" width="192.2" height="1.5" fill="url(#r123)"/><rect x="283.4" y="209" width="192.2" height="1.5" fill="url(#r124)"/><rect x="283.4" y="210" width="192.2" height="1.5" fill="url(#r125)"/><rect x="283.4" y="211" width="192.2" height="1.5" fill="url(#r126)"/><rect x="283.4" y="212" width="192.2" height="1.5" fill="url(#r127)"/><rect x="283.4" y="213" width="192.2" height="1.5" fill="url(#r128)"/><rect x="283.4" y="214" width="192.2" height="1.5" fill="url(#r129)"/><rect x="283.4" y="215" width="192.2" height="1.5" fill="url(#r130)"/><rect x="283.4" y="216" width="192.2" height="1.5" fill="url(#r131)"/><rect x="283.4" y="217" width="192.2" height="1.5" fill="url(#r132)"/><rect x="283.4" y="218" width="192.2" height="1.4" fill="url(#r133)"/></g>
<rect x="483.0" y="30.9" width="10.699999999999989" height="187.1" fill="url(#cb)"/>
<g fill="none" stroke="#000" stroke-opacity="0.62" stroke-width="0.95"><path d="M300.8 20.0 L300.7 20.8 L300.5 22.0 L300.4 23.2 L300.2 24.0 L300.1 25.2 L299.9 26.4 L299.8 27.5 L299.7 28.4 L299.5 29.6 L299.3 30.8 L299.2 31.6 L299.1 32.8 L298.9 34.0 L298.8 34.8 L298.6 36.0 L298.5 37.2 L298.3 38.4 L298.2 39.2 L298.1 40.4 L297.9 41.6 L297.8 42.4"/><path d="M293.6 76.7 L293.5 77.8 L293.4 78.7 L293.3 79.9 L293.2 81.1 L293.0 82.3 L292.9 83.1 L292.8 84.3 L292.7 85.5 L292.6 86.7 L292.5 87.5 L292.4 88.7 L292.2 89.9 L292.1 91.1 L292.0 91.9 L291.9 93.1 L291.8 94.3 L291.7 95.5 L291.6 96.5 L291.5 97.5 L291.4 98.7 L291.3 99.9 L291.2 101.1 L291.1 101.9 L291.0 103.1 L290.9 104.3 L290.7 105.5 L290.6 106.7 L290.6 107.5 L290.4 108.7 L290.3 109.9 L290.2 111.1 L290.1 111.9 L290.0 113.1 L289.9 114.3 L289.8 115.5 L289.7 116.7 L289.6 117.5 L289.5 118.7 L289.4 119.9 L289.2 121.1 L289.2 121.9 L289.1 123.1 L288.9 124.3 L288.8 125.5 L288.7 126.7 L288.7 127.5 L288.5 128.7 L288.4 129.9 L288.3 131.1 L288.2 132.3 L288.2 133.1 L288.1 134.3 L288.0 135.5 L287.9 136.7 L287.8 137.9 L287.7 138.7 L287.6 139.9 L287.5 141.1 L287.4 142.3 L287.3 143.5 L287.3 144.7 L287.2 145.5 L287.1 146.7 L287.0 147.9 L287.0 149.1 L286.9 150.3 L286.8 151.5 L286.7 152.3 L286.7 153.5 L286.6 154.7 L286.5 155.9 L286.5 157.1 L286.4 158.3 L286.3 159.5 L286.3 160.3 L286.2 161.5 L286.1 162.7 L286.0 163.9 L285.9 165.1 L285.9 166.3 L285.8 167.1 L285.7 168.3 L285.7 169.5 L285.6 170.6 L285.5 171.8 L285.5 173.0 L285.4 174.2 L285.4 175.4 L285.3 176.6 L285.3 177.4 L285.3 178.6 L285.2 179.8 L285.2 181.0 L285.2 182.2 L285.2 183.4 L285.1 184.6 L285.1 185.8 L285.1 187.0 L285.1 188.2 L285.1 189.4 L285.1 190.6 L285.1 191.8 L285.2 193.0 L285.2 194.2 L285.3 195.4 L285.3 196.2 L285.5 197.4 L285.6 198.6 L285.8 199.8 L285.9 200.6 L286.1 201.8 L286.3 202.7 L286.6 203.8 L286.9 204.6 L287.3 205.6 L287.7 206.5 L288.2 207.4 L288.7 208.1 L289.2 208.7 L289.8 209.4 L290.6 210.2 L291.1 210.7 L292.0 211.4 L292.6 211.8 L293.5 212.4 L294.5 212.9 L295.4 213.4 L296.4 213.8 L297.4 214.1 L298.3 214.5 L299.3 214.8 L300.3 215.0 L301.7 215.4 L302.7 215.6 L304.0 215.8 L305.1 216.0 L306.5 216.2 L307.5 216.3 L308.9 216.5 L310.4 216.6 L311.3 216.7 L312.8 216.8 L314.2 216.9 L315.2 217.0 L316.6 217.1 L318.1 217.2 L319.5 217.3 L321.0 217.3 L322.4 217.4 L323.4 217.4 L324.8 217.5 L326.3 217.5 L327.7 217.6 L329.2 217.6 L330.6 217.7 L332.1 217.7 L333.5 217.7 L334.9 217.7 L336.4 217.8 L337.8 217.8 L339.3 217.8 L340.2 217.8 L341.7 217.8 L343.1 217.8 L344.6 217.8 L346.0 217.9 L347.5 217.9 L348.9 217.9 L350.4 217.9 L351.8 217.9 L353.2 217.9 L354.7 217.9 L356.1 217.9 L357.6 217.9 L359.0 217.9 L360.5 217.9 L361.9 217.9 L363.4 217.9 L364.8 217.9 L366.3 217.9 L367.7 217.9 L369.1 217.9 L370.6 217.9 L372.0 217.9 L373.5 217.9 L374.9 217.9 L376.4 217.9 L377.8 217.9 L379.3 217.9 L380.7 217.9 L382.1 217.9 L383.6 217.9 L385.0 217.9 L386.5 217.9 L387.9 217.9 L389.4 217.9 L390.8 217.9 L392.3 217.9 L393.7 217.9 L395.2 217.9 L396.6 217.9 L398.0 217.9 L399.5 217.9 L400.9 217.9 L402.4 217.9 L403.8 217.9 L405.3 217.9 L406.7 217.9 L408.2 217.9 L409.6 217.9 L411.1 217.9 L412.5 217.9 L413.9 217.9 L415.4 217.9 L416.8 217.9 L418.3 217.9 L419.7 217.9 L421.2 217.9 L422.6 217.9 L424.1 217.9 L425.5 217.9 L426.9 217.9 L428.4 217.9 L429.8 217.9 L431.3 217.9 L432.7 217.9 L434.2 217.9 L435.6 217.9 L437.1 217.9 L438.5 217.9 L440.0 217.9 L441.4 217.9 L442.8 217.9 L444.3 217.9 L445.7 217.9 L447.2 217.9 L448.6 217.9 L450.1 217.9 L451.5 217.9 L453.0 217.9 L454.4 217.9 L455.9 217.9 L457.3 217.9 L458.7 217.9 L460.2 217.9 L461.6 217.9 L463.1 217.9 L464.5 217.9 L466.0 217.9 L467.4 217.9 L468.9 217.9 L470.3 217.9 L471.7 217.9 L473.2 217.9 L474.6 217.9"/><path d="M475.6 46.0 L474.2 46.0 L472.7 46.0 L471.3 46.0 L469.8 46.0 L468.4 46.0 L466.9 46.0 L465.5 46.0 L464.0 46.0 L462.6 46.0 L461.1 46.0 L459.7 46.0 L458.3 46.0 L456.8 46.1 L455.4 46.1 L453.9 46.1 L452.5 46.1 L451.0 46.1 L449.6 46.1 L448.1 46.1 L446.7 46.1 L445.3 46.1 L443.8 46.1 L442.4 46.1 L440.9 46.1 L439.5 46.1 L438.0 46.1 L436.6 46.1 L435.1 46.1 L433.7 46.2 L432.2 46.2 L430.8 46.2 L429.4 46.2 L427.9 46.2 L426.5 46.2 L425.0 46.2 L423.6 46.3 L422.1 46.3 L420.7 46.3 L419.2 46.3 L417.8 46.3 L416.4 46.4 L415.4 46.4 L413.9 46.4 L412.5 46.4 L411.1 46.5 L409.6 46.5 L408.2 46.5 L406.7 46.6 L405.3 46.6 L403.8 46.6 L402.4 46.7 L400.9 46.7 L399.9 46.8 L398.5 46.8 L397.1 46.9 L395.6 46.9 L394.2 47.0 L392.7 47.1 L391.3 47.2 L390.3 47.2 L388.9 47.3 L387.4 47.4 L386.0 47.5 L384.7 47.6 L383.6 47.7 L382.1 47.8 L380.7 47.9 L379.7 48.0 L378.3 48.1 L376.9 48.3 L375.9 48.4 L374.4 48.5 L373.0 48.7 L372.0 48.8 L370.6 49.0 L369.6 49.2 L368.2 49.4 L367.1 49.6 L365.8 49.8 L364.8 50.0 L363.4 50.3 L362.4 50.4 L361.0 50.8 L360.0 51.0 L359.0 51.2 L357.6 51.6 L356.6 51.8 L355.7 52.1 L354.7 52.4 L353.4 52.8 L352.3 53.1 L351.3 53.4 L350.4 53.8 L349.4 54.1 L348.4 54.5 L347.5 54.9 L346.5 55.3 L345.5 55.7 L344.6 56.2 L343.6 56.6 L342.6 57.1 L341.8 57.6 L341.1 58.0 L340.2 58.4 L339.3 59.0 L338.4 59.6 L337.8 60.0 L336.9 60.6 L336.0 61.2 L335.4 61.6 L334.5 62.3 L333.8 62.8"/><path d="M312.8 90.3 L312.4 91.1 L312.0 91.9 L311.7 92.7 L311.3 93.5 L310.9 94.5 L310.4 95.5 L310.1 96.3 L309.7 97.1 L309.4 97.9 L308.9 99.1 L308.6 99.9 L308.3 100.7 L308.0 101.5 L307.5 102.7 L307.2 103.5 L306.9 104.3 L306.5 105.4 L306.2 106.3 L305.9 107.1 L305.6 108.1 L305.2 109.1 L304.9 109.9 L304.6 110.8 L304.2 111.9 L303.9 112.7 L303.6 113.6 L303.3 114.7 L303.0 115.5 L302.7 116.5 L302.3 117.5 L302.1 118.3 L301.7 119.4 L301.4 120.3 L301.2 121.1 L300.8 122.3 L300.6 123.1 L300.3 124.1 L300.0 125.1 L299.7 125.9 L299.4 127.1 L299.2 127.9 L298.8 129.1 L298.6 129.9 L298.3 130.9 L298.1 131.9 L297.9 132.8 L297.6 133.9 L297.4 134.8 L297.1 135.9 L296.9 136.8 L296.6 137.9 L296.4 138.9 L296.2 139.9 L295.9 141.1 L295.8 141.9 L295.5 143.1 L295.4 143.9 L295.1 145.1 L295.0 145.9 L294.7 147.1 L294.5 148.3 L294.4 149.1 L294.2 150.3 L294.0 151.2 L293.8 152.3 L293.6 153.5 L293.5 154.3 L293.3 155.5 L293.1 156.7 L293.0 157.5 L292.8 158.7 L292.6 159.9 L292.5 160.7 L292.3 161.9 L292.1 163.0 L291.9 163.9 L291.7 165.1 L291.6 165.9 L291.4 167.1 L291.2 168.3 L291.1 169.1 L290.9 170.2 L290.8 171.4 L290.6 172.6 L290.5 173.4 L290.4 174.6 L290.3 175.8 L290.2 177.0 L290.1 177.8 L290.0 179.0 L290.0 180.2 L289.9 181.4 L289.8 182.6 L289.8 183.8 L289.7 185.0 L289.7 185.8 L289.6 187.0 L289.6 188.2 L289.6 189.4 L289.6 190.6 L289.6 191.8 L289.7 193.0 L289.7 193.8 L289.8 195.0 L290.0 196.2 L290.1 197.2 L290.3 198.2 L290.6 199.4 L290.8 200.2 L291.1 201.3 L291.4 202.2 L291.7 203.0 L292.1 203.8 L292.6 204.6 L293.1 205.4 L293.8 206.2 L294.5 207.0 L295.0 207.5 L295.8 208.2 L296.4 208.7 L297.4 209.4 L298.0 209.8 L298.8 210.3 L299.8 210.8 L300.7 211.3 L301.7 211.7 L302.7 212.1 L303.6 212.5 L304.6 212.8 L305.6 213.1 L306.7 213.4 L308.0 213.7 L308.9 213.9 L310.1 214.2 L311.3 214.4 L312.3 214.6 L313.7 214.8 L314.8 215.0 L316.2 215.2 L317.6 215.3 L318.6 215.4 L320.0 215.5 L321.5 215.7 L322.9 215.7 L323.9 215.8 L325.3 215.9 L326.8 216.0 L328.2 216.0 L329.6 216.1 L331.1 216.1 L332.5 216.2 L333.9 216.2 L334.9 216.2 L336.4 216.3 L337.8 216.3 L339.3 216.3 L340.7 216.3 L342.2 216.4 L343.6 216.4 L345.1 216.4 L346.5 216.4 L347.9 216.4 L349.4 216.4 L350.8 216.4 L352.3 216.5 L353.7 216.5 L355.2 216.5 L356.6 216.5 L358.1 216.5 L359.5 216.5 L361.0 216.5 L362.4 216.5 L363.8 216.5 L365.3 216.5 L366.7 216.5 L368.2 216.5 L369.6 216.5 L371.1 216.5 L372.5 216.5 L374.0 216.5 L375.4 216.5 L376.9 216.5 L378.3 216.5 L379.7 216.5 L381.2 216.5 L382.6 216.5 L384.1 216.5 L385.5 216.5 L387.0 216.5 L388.4 216.5 L389.9 216.5 L391.3 216.5 L392.7 216.5 L394.2 216.5 L395.6 216.5 L397.1 216.5 L398.5 216.5 L400.0 216.5 L401.4 216.5 L402.9 216.5 L404.3 216.5 L405.8 216.5 L407.2 216.5 L408.6 216.5 L410.1 216.5 L411.5 216.5 L413.0 216.5 L414.4 216.5 L415.9 216.5 L417.3 216.5 L418.8 216.5 L420.2 216.5 L421.6 216.5 L423.1 216.5 L424.5 216.5 L426.0 216.5 L427.4 216.5 L428.9 216.5 L430.3 216.5 L431.8 216.5 L433.2 216.5 L434.7 216.5 L436.1 216.5 L437.5 216.5 L439.0 216.5 L440.4 216.5 L441.9 216.5 L443.3 216.5 L444.8 216.5 L446.2 216.5 L447.7 216.5 L449.1 216.5 L450.6 216.5 L452.0 216.5 L453.4 216.5 L454.9 216.5 L456.3 216.5 L457.8 216.5 L459.2 216.5 L460.7 216.5 L462.1 216.5 L463.6 216.5 L465.0 216.5 L466.4 216.5 L467.9 216.5 L469.3 216.5 L470.8 216.5 L472.2 216.5 L473.7 216.5 L475.1 216.5"/><path d="M475.6 105.6 L474.2 105.6 L472.7 105.6 L471.3 105.6 L469.8 105.6 L468.4 105.6 L466.9 105.6 L465.5 105.6 L464.0 105.6 L462.6 105.6 L461.1 105.6 L459.7 105.6 L458.3 105.6 L456.8 105.6 L455.4 105.6 L453.9 105.6 L452.5 105.6 L451.0 105.7 L449.6 105.7 L448.1 105.7 L446.7 105.7 L445.3 105.7 L443.8 105.7 L442.4 105.7 L440.9 105.7 L439.5 105.7 L438.0 105.7 L436.6 105.7 L435.1 105.7 L433.7 105.7 L432.2 105.7 L430.8 105.7 L429.4 105.7 L427.9 105.8 L426.5 105.8 L425.0 105.8 L423.6 105.8 L422.1 105.8 L420.7 105.8 L419.2 105.8 L417.8 105.8 L416.4 105.9 L414.9 105.9 L413.5 105.9 L412.5 105.9 L411.1 105.9 L409.6 106.0 L408.2 106.0 L406.7 106.0 L405.3 106.0 L403.8 106.1 L402.4 106.1 L400.9 106.1 L399.5 106.2 L398.0 106.2 L396.6 106.3 L395.2 106.3 L394.2 106.3 L392.7 106.4 L391.3 106.5 L389.9 106.5 L388.4 106.6 L387.0 106.6 L385.5 106.7 L384.6 106.8 L383.1 106.8 L381.7 106.9 L380.2 107.0 L378.9 107.1 L377.8 107.2 L376.4 107.3 L374.9 107.4 L373.7 107.5 L372.5 107.6 L371.1 107.8 L369.6 107.9 L368.7 108.0 L367.2 108.2 L366.1 108.3 L364.8 108.5 L363.4 108.7 L362.4 108.8 L361.0 109.0 L360.0 109.2"/><path d="M327.7 120.5 L326.9 121.1 L326.3 121.5 L325.3 122.2 L324.7 122.7 L323.9 123.3 L323.2 123.9 L322.4 124.5 L321.8 125.1 L321.0 125.8 L320.4 126.3 L319.6 127.1 L319.0 127.6 L318.4 128.3 L317.7 129.1 L317.1 129.7 L316.6 130.3 L315.9 131.1 L315.2 131.9 L314.7 132.5 L314.2 133.2 L313.7 133.9 L313.1 134.7 L312.5 135.5 L312.0 136.3 L311.5 137.1 L310.9 137.9 L310.4 138.7 L310.0 139.5 L309.5 140.3 L309.0 141.1 L308.6 141.9 L308.2 142.7 L307.8 143.5 L307.3 144.3 L307.0 145.1 L306.5 146.0 L306.0 147.0 L305.7 147.9 L305.3 148.7 L305.0 149.5 L304.6 150.4 L304.2 151.5 L303.9 152.3 L303.6 153.1 L303.1 154.2 L302.8 155.1 L302.6 155.9 L302.2 157.0 L301.9 157.9 L301.6 158.7 L301.2 159.7 L300.9 160.7 L300.6 161.5 L300.3 162.3 L299.9 163.5 L299.6 164.3 L299.3 165.1 L298.9 166.3 L298.7 167.1 L298.3 168.1 L298.1 169.1 L297.8 169.8 L297.5 171.0 L297.3 171.8 L297.0 173.0 L296.8 173.8 L296.6 175.0 L296.4 175.9 L296.2 177.0 L296.0 178.2 L295.9 179.0 L295.8 180.2 L295.6 181.4 L295.5 182.6 L295.4 183.4 L295.3 184.6 L295.2 185.8 L295.1 187.0 L295.0 188.2 L295.0 189.4 L294.9 190.2 L295.0 191.4 L295.0 192.2 L295.1 193.4 L295.2 194.6 L295.4 195.8 L295.6 196.6 L295.9 197.8 L296.1 198.6 L296.4 199.5 L296.9 200.6 L297.2 201.4 L297.6 202.2 L298.0 203.0 L298.6 203.8 L299.2 204.6 L299.8 205.2 L300.5 205.8 L301.2 206.4 L302.1 207.0 L302.7 207.4 L303.6 208.0 L304.6 208.5 L305.6 209.0 L306.5 209.4 L307.4 209.8 L308.3 210.2 L309.4 210.6 L310.4 210.9 L311.3 211.3 L312.3 211.5 L313.3 211.8 L314.7 212.1 L315.7 212.3 L317.0 212.6 L318.1 212.8 L319.2 213.0 L320.5 213.2 L321.9 213.4 L322.9 213.5 L324.3 213.7 L325.4 213.8 L326.8 213.9 L328.2 214.1 L329.6 214.2 L330.6 214.3 L332.1 214.3 L333.5 214.4 L334.9 214.5 L336.4 214.6 L337.4 214.6 L338.8 214.7 L340.2 214.7 L341.7 214.8 L343.1 214.8 L344.6 214.8 L346.0 214.9 L347.5 214.9 L348.9 214.9 L350.4 215.0 L351.8 215.0 L353.2 215.0 L354.7 215.0 L355.7 215.0 L357.1 215.0 L358.5 215.0 L360.0 215.0 L361.4 215.0 L362.9 215.1 L364.3 215.1 L365.8 215.1 L367.2 215.1 L368.7 215.1 L370.1 215.1 L371.6 215.1 L373.0 215.1 L374.4 215.1 L375.9 215.1 L377.3 215.1 L378.8 215.1 L380.2 215.1 L381.7 215.1 L383.1 215.1 L384.6 215.1 L386.0 215.1 L387.4 215.1 L388.9 215.1 L390.3 215.1 L391.8 215.1 L393.2 215.1 L394.7 215.1 L396.1 215.1 L397.6 215.1 L399.0 215.1 L400.5 215.1 L401.9 215.1 L403.3 215.1 L404.8 215.1 L406.2 215.1 L407.7 215.1 L409.1 215.1 L410.6 215.1 L412.0 215.1 L413.5 215.1 L414.9 215.1 L416.4 215.1 L417.8 215.1 L419.2 215.1 L420.7 215.1 L422.1 215.1 L423.6 215.1 L425.0 215.1 L426.5 215.1 L427.9 215.1 L429.4 215.1 L430.8 215.1 L432.2 215.1 L433.7 215.1 L435.1 215.1 L436.6 215.1 L438.0 215.1 L439.5 215.1 L440.9 215.1 L442.4 215.1 L443.8 215.1 L445.3 215.1 L446.7 215.1 L448.1 215.1 L449.6 215.1 L451.0 215.1 L452.5 215.1 L453.9 215.1 L455.4 215.1 L456.8 215.1 L458.3 215.1 L459.7 215.1 L461.1 215.1 L462.6 215.1 L464.0 215.1 L465.5 215.1 L466.9 215.1 L468.4 215.1 L469.8 215.1 L471.3 215.1 L472.7 215.1 L474.2 215.1 L475.6 215.1"/><path d="M475.6 156.4 L474.2 156.4 L472.7 156.4 L471.3 156.4 L469.8 156.4 L468.4 156.4 L466.9 156.4 L465.5 156.4 L464.0 156.4 L462.6 156.4 L461.1 156.4 L459.7 156.4 L458.3 156.4 L456.8 156.4 L455.4 156.4 L453.9 156.4 L452.5 156.4 L451.0 156.4 L449.6 156.4 L448.1 156.4 L446.7 156.4 L445.3 156.5 L443.8 156.5 L442.4 156.5 L440.9 156.5 L439.5 156.5 L438.0 156.5 L436.6 156.5 L435.1 156.5 L433.7 156.5 L432.2 156.5 L430.8 156.5 L429.4 156.5 L427.9 156.5 L426.5 156.5 L425.0 156.5 L423.6 156.5 L422.1 156.6 L420.7 156.6 L419.2 156.6 L417.8 156.6 L416.4 156.6 L414.9 156.6 L413.5 156.6 L412.0 156.7 L411.1 156.7 L409.6 156.7 L408.2 156.7 L406.7 156.7 L405.3 156.8 L403.8 156.8 L402.4 156.8 L400.9 156.8 L399.5 156.9 L398.0 156.9 L396.6 156.9"/><path d="M361.9 158.9 L360.7 159.1 L359.5 159.2 L358.1 159.4 L357.1 159.5 L355.7 159.7 L354.7 159.9 L353.2 160.1 L352.2 160.3 L350.8 160.5 L349.9 160.7 L348.4 160.9 L347.5 161.1 L346.0 161.5 L345.1 161.7 L344.1 161.9 L342.6 162.2 L341.7 162.5 L340.7 162.8 L339.7 163.1 L338.4 163.5 L337.4 163.8 L336.4 164.1 L335.4 164.4 L334.5 164.8 L333.5 165.2 L332.5 165.5 L331.6 166.0 L330.6 166.4 L329.6 166.8 L328.7 167.3 L327.7 167.8 L326.9 168.3 L326.2 168.7 L325.3 169.2 L324.3 169.8 L323.7 170.2 L322.9 170.9 L322.1 171.4 L321.5 172.0 L320.7 172.6 L320.0 173.3 L319.4 173.8 L318.7 174.6 L318.1 175.3 L317.6 175.9 L317.0 176.6 L316.5 177.4 L316.0 178.2 L315.5 179.0 L315.1 179.8 L314.7 180.7 L314.2 181.7 L313.8 182.6 L313.4 183.4 L313.1 184.2 L312.8 185.0 L312.3 186.2 L312.1 187.0 L311.8 188.0 L311.6 189.0 L311.4 190.2 L311.3 191.0 L311.3 192.2 L311.4 193.0 L311.6 194.2 L311.8 195.1 L312.3 196.2 L312.6 197.0 L313.1 197.8 L313.6 198.6 L314.2 199.4 L314.7 200.0 L315.2 200.6 L316.0 201.4 L316.6 202.1 L317.2 202.6 L318.1 203.2 L319.0 203.8 L319.9 204.2 L320.8 204.6 L321.9 205.0 L322.9 205.4 L323.9 205.7 L324.8 205.9 L325.9 206.2 L327.2 206.5 L328.2 206.7 L329.5 207.0 L330.6 207.2 L331.8 207.4 L333.0 207.6 L334.4 207.8 L335.4 207.9 L336.9 208.1 L337.8 208.2 L339.3 208.4 L340.7 208.5 L341.7 208.6 L343.1 208.7 L344.6 208.9 L346.0 209.0 L347.0 209.0 L348.4 209.1 L349.9 209.2 L351.3 209.3 L352.8 209.3 L354.2 209.4 L355.2 209.4 L356.6 209.5 L358.1 209.5 L359.5 209.6 L361.0 209.6 L362.4 209.7 L363.8 209.7 L365.3 209.7 L366.7 209.7 L368.2 209.8 L369.6 209.8 L371.1 209.8 L372.0 209.8 L373.5 209.8 L374.9 209.9 L376.4 209.9 L377.8 209.9 L379.3 209.9 L380.7 209.9 L382.1 209.9 L383.6 209.9 L385.0 209.9 L386.5 209.9 L387.9 209.9 L389.4 209.9 L390.8 210.0 L392.3 210.0 L393.7 210.0 L395.2 210.0 L396.6 210.0 L398.0 210.0 L399.5 210.0 L400.9 210.0 L402.4 210.0 L403.8 210.0 L405.3 210.0 L406.7 210.0 L408.2 210.0 L409.6 210.0 L411.1 210.0 L412.5 210.0 L413.9 210.0 L415.4 210.0 L416.8 210.0 L418.3 210.0 L419.7 210.0 L421.2 210.0 L422.6 210.0 L424.1 210.0 L425.5 210.0 L426.9 210.0 L428.4 210.0 L429.8 210.0 L431.3 210.0 L432.7 210.0 L434.2 210.0 L435.6 210.0 L437.1 210.0 L438.5 210.0 L440.0 210.0 L441.4 210.0 L442.8 210.0 L444.3 210.0 L445.7 210.0 L447.2 210.0 L448.6 210.0 L450.1 210.0 L451.5 210.0 L453.0 210.0 L454.4 210.0 L455.9 210.0 L457.3 210.0 L458.7 210.0 L460.2 210.0 L461.6 210.0 L463.1 210.0 L464.5 210.0 L466.0 210.0 L467.4 210.0 L468.9 210.0 L470.3 210.0 L471.7 210.0 L473.2 210.0 L474.6 210.0"/><path d="M475.6 180.2 L474.2 180.2 L472.7 180.2 L471.3 180.2 L469.8 180.2 L468.4 180.2 L466.9 180.2 L465.5 180.2 L464.0 180.2 L462.6 180.2 L461.6 180.2 L460.2 180.2 L458.7 180.2 L457.3 180.2 L455.9 180.3 L454.4 180.3 L453.0 180.3 L451.5 180.3 L450.1 180.3 L448.6 180.3 L447.2 180.3 L445.7 180.3 L444.3 180.3 L442.8 180.3 L441.4 180.3 L440.0 180.3 L438.5 180.3 L437.1 180.3 L435.6 180.3 L434.2 180.3 L432.7 180.4 L431.3 180.4 L429.8 180.4 L428.4 180.4"/><path d="M393.7 181.1 L392.3 181.2 L390.8 181.3 L389.4 181.3 L387.9 181.4 L387.0 181.5 L385.5 181.6 L384.1 181.7 L382.6 181.8 L381.5 181.8 L380.2 181.9 L378.8 182.1 L377.3 182.2 L376.4 182.3 L374.9 182.4 L373.5 182.6 L372.5 182.7 L371.1 182.8 L369.6 183.0 L368.7 183.2 L367.2 183.4 L366.3 183.5 L364.8 183.7 L363.8 183.9 L362.4 184.2 L361.4 184.3 L360.0 184.6 L359.0 184.9 L358.1 185.1 L356.7 185.4 L355.7 185.7 L354.7 186.0 L353.7 186.3 L352.7 186.6 L351.6 187.0 L350.6 187.4 L349.7 187.8 L348.9 188.2 L347.9 188.7 L347.0 189.4 L346.4 189.8 L345.5 190.6 L345.1 191.2 L344.6 192.2 L344.5 193.0 L344.8 193.8 L345.4 194.6 L346.0 195.1 L347.0 195.8 L347.9 196.2 L348.7 196.6 L349.7 197.0 L350.8 197.4 L351.8 197.7 L352.8 198.0 L353.7 198.2 L355.2 198.6 L356.1 198.8 L357.2 199.0 L358.5 199.3 L359.5 199.4 L361.0 199.7 L362.0 199.8 L363.4 200.0 L364.8 200.2 L365.8 200.3 L367.2 200.5 L368.7 200.6 L369.6 200.7 L371.1 200.8 L372.5 201.0 L373.5 201.0 L374.9 201.1 L376.4 201.2 L377.8 201.3 L379.3 201.4 L380.2 201.4 L381.7 201.5 L383.1 201.6 L384.6 201.6 L386.0 201.7 L387.4 201.8 L388.9 201.8 L389.9 201.8 L391.3 201.9 L392.7 201.9 L394.2 201.9 L395.6 202.0 L397.1 202.0 L398.5 202.0 L400.0 202.1 L401.4 202.1 L402.9 202.1 L404.3 202.1 L405.8 202.2 L407.2 202.2 L408.6 202.2 L410.1 202.2 L411.1 202.2 L412.5 202.2 L413.9 202.2 L415.4 202.3 L416.8 202.3 L418.3 202.3 L419.7 202.3 L421.2 202.3 L422.6 202.3 L424.1 202.3 L425.5 202.3 L426.9 202.3 L428.4 202.3 L429.8 202.3 L431.3 202.3 L432.7 202.3 L434.2 202.3 L435.6 202.3 L437.1 202.3 L438.5 202.4 L440.0 202.4 L441.4 202.4 L442.8 202.4 L444.3 202.4 L445.7 202.4 L447.2 202.4 L448.6 202.4 L450.1 202.4 L451.5 202.4 L453.0 202.4 L454.4 202.4 L455.9 202.4 L457.3 202.4 L458.7 202.4 L460.2 202.4 L461.6 202.4 L463.1 202.4 L464.5 202.4 L466.0 202.4 L467.4 202.4 L468.9 202.4 L470.3 202.4 L471.7 202.4 L473.2 202.4 L474.6 202.4"/></g>
<rect x="283.4" y="20.0" width="192.20000000000005" height="199.4" fill="none" stroke="#000" stroke-opacity="0.6" stroke-width="0.8"/>
<rect x="483.0" y="30.9" width="10.699999999999989" height="187.1" fill="none" stroke="#000" stroke-opacity="0.45" stroke-width="0.7"/>
<g font-size="13.5" fill="#000" stroke="#000" stroke-width="0.3"><text transform="translate(295.6 59.6) rotate(-83.1)" x="0" y="4.2" text-anchor="middle">0.30</text><text transform="translate(321.6 75.5) rotate(-52.9)" x="0" y="4.2" text-anchor="middle">0.60</text><text transform="translate(343.1 113.2) rotate(-19.4)" x="0" y="4.2" text-anchor="middle">0.90</text><text transform="translate(379.3 157.6) rotate(0.0)" x="0" y="4.2" text-anchor="middle">1.50</text><text transform="translate(411.1 180.6) rotate(0.0)" x="0" y="4.2" text-anchor="middle">1.95</text></g>
<g stroke="#000" stroke-width="0.8" fill="none"><path d="M320.0 219.4V222.4"/><path d="M358.9 219.4V222.4"/><path d="M397.8 219.4V222.4"/><path d="M436.7 219.4V222.4"/><path d="M475.6 219.4V222.4"/><path d="M283.4 180.0H280.4"/><path d="M283.4 140.0H280.4"/><path d="M283.4 100.0H280.4"/><path d="M283.4 60.0H280.4"/><path d="M283.4 20.0H280.4"/><path d="M493.7 193.1H496.7"/><path d="M493.7 166.3H496.7"/><path d="M493.7 139.6H496.7"/><path d="M493.7 112.9H496.7"/><path d="M493.7 86.1H496.7"/><path d="M493.7 59.4H496.7"/></g>
<g font-size="15.3" stroke="#000" stroke-width="0.3"><text x="320.0" y="236.7" text-anchor="middle">2</text><text x="358.9" y="236.7" text-anchor="middle">4</text><text x="397.8" y="236.7" text-anchor="middle">6</text><text x="436.7" y="236.7" text-anchor="middle">8</text><text x="475.6" y="236.7" text-anchor="middle">10</text><text x="278.7" y="187.1" text-anchor="end">2</text><text x="278.7" y="147.1" text-anchor="end">4</text><text x="278.7" y="107.1" text-anchor="end">6</text><text x="278.7" y="67.1" text-anchor="end">8</text><text x="278.7" y="27.1" text-anchor="end">10</text><text x="500" y="198.0">0.3</text><text x="500" y="171.2">0.6</text><text x="500" y="144.5">0.9</text><text x="500" y="117.8">1.2</text><text x="500" y="91.0">1.5</text><text x="500" y="64.3">1.8</text></g>
<text x="383" y="12.3" font-size="16" text-anchor="middle">(b)</text>
<text x="482.3" y="24.7" font-size="14.5"><tspan font-style="italic">V</tspan><tspan font-size="11" dy="3.6" font-weight="bold">ISH</tspan></text>
<g font-style="italic" font-size="16.5"><text x="366.8" y="249">w</text><text x="379.3" y="249.5" font-size="18" font-style="normal">/</text><text x="386.2" y="249">λ</text><text x="394" y="253.2" font-size="12.5">m</text></g>
<g transform="translate(265.6 136.8) rotate(-90)" font-style="italic" font-size="16.5"><text x="0" y="0">d</text><text x="11.3" y="0.5" font-size="18" font-style="normal">/</text><text x="19" y="0">λ</text><text x="26.6" y="3.6" font-size="12.5">e</text></g>
</svg></body></html>
